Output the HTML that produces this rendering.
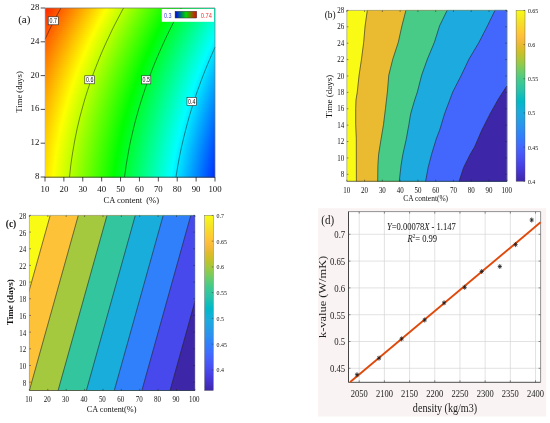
<!DOCTYPE html>
<html><head><meta charset="utf-8"><title>Figure</title>
<style>html,body{margin:0;padding:0;background:#fff}svg{display:block}</style></head>
<body><svg width="550" height="423" viewBox="0 0 550 423">
<defs><linearGradient id="a0"><stop offset="0.0000" stop-color="#ff2700"/><stop offset="0.1250" stop-color="#ff7000"/><stop offset="0.2500" stop-color="#ffbb00"/><stop offset="0.3589" stop-color="#ffff00"/><stop offset="0.3750" stop-color="#f5ff00"/><stop offset="0.5000" stop-color="#a1ff00"/><stop offset="0.6250" stop-color="#4bff00"/><stop offset="0.7311" stop-color="#01ff00"/><stop offset="0.7500" stop-color="#00ff0d"/><stop offset="0.8750" stop-color="#00ff66"/><stop offset="1.0000" stop-color="#00ffc1"/></linearGradient><linearGradient id="a1"><stop offset="0.0000" stop-color="#ff2a00"/><stop offset="0.1250" stop-color="#ff7400"/><stop offset="0.2500" stop-color="#ffbf00"/><stop offset="0.3522" stop-color="#ffff00"/><stop offset="0.3750" stop-color="#f0ff00"/><stop offset="0.5000" stop-color="#9dff00"/><stop offset="0.6250" stop-color="#47ff00"/><stop offset="0.7256" stop-color="#00ff00"/><stop offset="0.7500" stop-color="#00ff11"/><stop offset="0.8750" stop-color="#00ff6a"/><stop offset="1.0000" stop-color="#00ffc6"/></linearGradient><linearGradient id="a2"><stop offset="0.0000" stop-color="#ff2e00"/><stop offset="0.1250" stop-color="#ff7700"/><stop offset="0.2500" stop-color="#ffc300"/><stop offset="0.3456" stop-color="#ffff00"/><stop offset="0.3750" stop-color="#ecff00"/><stop offset="0.5000" stop-color="#99ff00"/><stop offset="0.6250" stop-color="#43ff00"/><stop offset="0.7189" stop-color="#00ff00"/><stop offset="0.7500" stop-color="#00ff16"/><stop offset="0.8750" stop-color="#00ff6f"/><stop offset="1.0000" stop-color="#00ffcb"/></linearGradient><linearGradient id="a3"><stop offset="0.0000" stop-color="#ff3200"/><stop offset="0.1250" stop-color="#ff7b00"/><stop offset="0.2500" stop-color="#ffc700"/><stop offset="0.3389" stop-color="#fffe00"/><stop offset="0.3750" stop-color="#e8ff00"/><stop offset="0.5000" stop-color="#94ff00"/><stop offset="0.6250" stop-color="#3eff00"/><stop offset="0.7122" stop-color="#01ff00"/><stop offset="0.7500" stop-color="#00ff1a"/><stop offset="0.8750" stop-color="#00ff74"/><stop offset="1.0000" stop-color="#00ffd0"/></linearGradient><linearGradient id="a4"><stop offset="0.0000" stop-color="#ff3500"/><stop offset="0.1250" stop-color="#ff7f00"/><stop offset="0.2500" stop-color="#ffcb00"/><stop offset="0.3333" stop-color="#ffff00"/><stop offset="0.3750" stop-color="#e4ff00"/><stop offset="0.5000" stop-color="#90ff00"/><stop offset="0.6250" stop-color="#3aff00"/><stop offset="0.7067" stop-color="#00ff00"/><stop offset="0.7500" stop-color="#00ff1e"/><stop offset="0.8750" stop-color="#00ff78"/><stop offset="1.0000" stop-color="#00ffd4"/></linearGradient><linearGradient id="a5"><stop offset="0.0000" stop-color="#ff3900"/><stop offset="0.1250" stop-color="#ff8300"/><stop offset="0.2500" stop-color="#ffcf00"/><stop offset="0.3267" stop-color="#fffe00"/><stop offset="0.3750" stop-color="#e0ff00"/><stop offset="0.5000" stop-color="#8cff00"/><stop offset="0.6250" stop-color="#35ff00"/><stop offset="0.7000" stop-color="#00ff00"/><stop offset="0.7500" stop-color="#00ff23"/><stop offset="0.8750" stop-color="#00ff7d"/><stop offset="1.0000" stop-color="#00ffd9"/></linearGradient><linearGradient id="a6"><stop offset="0.0000" stop-color="#ff3c00"/><stop offset="0.1250" stop-color="#ff8600"/><stop offset="0.2500" stop-color="#ffd200"/><stop offset="0.3211" stop-color="#ffff00"/><stop offset="0.3750" stop-color="#dcff00"/><stop offset="0.5000" stop-color="#88ff00"/><stop offset="0.6250" stop-color="#31ff00"/><stop offset="0.6944" stop-color="#00ff00"/><stop offset="0.7500" stop-color="#00ff27"/><stop offset="0.8750" stop-color="#00ff81"/><stop offset="1.0000" stop-color="#00ffdd"/></linearGradient><linearGradient id="a7"><stop offset="0.0000" stop-color="#ff4000"/><stop offset="0.1250" stop-color="#ff8a00"/><stop offset="0.2500" stop-color="#ffd600"/><stop offset="0.3144" stop-color="#fffe00"/><stop offset="0.3750" stop-color="#d8ff00"/><stop offset="0.5000" stop-color="#84ff00"/><stop offset="0.6250" stop-color="#2dff00"/><stop offset="0.6878" stop-color="#00ff00"/><stop offset="0.7500" stop-color="#00ff2b"/><stop offset="0.8750" stop-color="#00ff86"/><stop offset="1.0000" stop-color="#00ffe2"/></linearGradient><linearGradient id="a8"><stop offset="0.0000" stop-color="#ff4300"/><stop offset="0.1250" stop-color="#ff8d00"/><stop offset="0.2500" stop-color="#ffda00"/><stop offset="0.3089" stop-color="#ffff00"/><stop offset="0.3750" stop-color="#d4ff00"/><stop offset="0.5000" stop-color="#80ff00"/><stop offset="0.6250" stop-color="#29ff00"/><stop offset="0.6822" stop-color="#00ff00"/><stop offset="0.7500" stop-color="#00ff30"/><stop offset="0.8750" stop-color="#00ff8a"/><stop offset="1.0000" stop-color="#00ffe7"/></linearGradient><linearGradient id="a9"><stop offset="0.0000" stop-color="#ff4700"/><stop offset="0.1250" stop-color="#ff9100"/><stop offset="0.2500" stop-color="#ffdd00"/><stop offset="0.3033" stop-color="#ffff00"/><stop offset="0.3750" stop-color="#d0ff00"/><stop offset="0.5000" stop-color="#7bff00"/><stop offset="0.6250" stop-color="#25ff00"/><stop offset="0.6756" stop-color="#01ff00"/><stop offset="0.7500" stop-color="#00ff34"/><stop offset="0.8750" stop-color="#00ff8e"/><stop offset="1.0000" stop-color="#00ffeb"/></linearGradient><linearGradient id="a10"><stop offset="0.0000" stop-color="#ff4a00"/><stop offset="0.1250" stop-color="#ff9400"/><stop offset="0.2500" stop-color="#ffe100"/><stop offset="0.2967" stop-color="#fffe00"/><stop offset="0.3750" stop-color="#ccff00"/><stop offset="0.5000" stop-color="#77ff00"/><stop offset="0.6250" stop-color="#20ff00"/><stop offset="0.6700" stop-color="#00ff00"/><stop offset="0.7500" stop-color="#00ff38"/><stop offset="0.8750" stop-color="#00ff93"/><stop offset="1.0000" stop-color="#00ffef"/></linearGradient><linearGradient id="a11"><stop offset="0.0000" stop-color="#ff4e00"/><stop offset="0.1250" stop-color="#ff9800"/><stop offset="0.2500" stop-color="#ffe500"/><stop offset="0.2911" stop-color="#fffe00"/><stop offset="0.3750" stop-color="#c8ff00"/><stop offset="0.5000" stop-color="#73ff00"/><stop offset="0.6250" stop-color="#1cff00"/><stop offset="0.6644" stop-color="#00ff00"/><stop offset="0.7500" stop-color="#00ff3c"/><stop offset="0.8750" stop-color="#00ff97"/><stop offset="1.0000" stop-color="#00fff4"/></linearGradient><linearGradient id="a12"><stop offset="0.0000" stop-color="#ff5100"/><stop offset="0.1250" stop-color="#ff9b00"/><stop offset="0.2500" stop-color="#ffe800"/><stop offset="0.2856" stop-color="#ffff00"/><stop offset="0.3750" stop-color="#c4ff00"/><stop offset="0.5000" stop-color="#70ff00"/><stop offset="0.6250" stop-color="#18ff00"/><stop offset="0.6589" stop-color="#00ff00"/><stop offset="0.7500" stop-color="#00ff40"/><stop offset="0.8750" stop-color="#00ff9b"/><stop offset="1.0000" stop-color="#00fff8"/></linearGradient><linearGradient id="a13"><stop offset="0.0000" stop-color="#ff5400"/><stop offset="0.1250" stop-color="#ff9f00"/><stop offset="0.2500" stop-color="#ffec00"/><stop offset="0.2800" stop-color="#ffff00"/><stop offset="0.3750" stop-color="#c1ff00"/><stop offset="0.5000" stop-color="#6cff00"/><stop offset="0.6250" stop-color="#14ff00"/><stop offset="0.6533" stop-color="#00ff00"/><stop offset="0.7500" stop-color="#00ff44"/><stop offset="0.8750" stop-color="#00ff9f"/><stop offset="1.0000" stop-color="#00fffd"/></linearGradient><linearGradient id="a14"><stop offset="0.0000" stop-color="#ff5700"/><stop offset="0.1250" stop-color="#ffa200"/><stop offset="0.2500" stop-color="#ffef00"/><stop offset="0.2744" stop-color="#ffff00"/><stop offset="0.3750" stop-color="#bdff00"/><stop offset="0.5000" stop-color="#68ff00"/><stop offset="0.6250" stop-color="#10ff00"/><stop offset="0.6478" stop-color="#00ff00"/><stop offset="0.7500" stop-color="#00ff48"/><stop offset="0.8750" stop-color="#00ffa3"/><stop offset="0.9967" stop-color="#00fffe"/><stop offset="1.0000" stop-color="#00fdff"/></linearGradient><linearGradient id="a15"><stop offset="0.0000" stop-color="#ff5b00"/><stop offset="0.1250" stop-color="#ffa500"/><stop offset="0.2500" stop-color="#fff300"/><stop offset="0.2689" stop-color="#ffff00"/><stop offset="0.3750" stop-color="#b9ff00"/><stop offset="0.5000" stop-color="#64ff00"/><stop offset="0.6250" stop-color="#0cff00"/><stop offset="0.6422" stop-color="#00ff00"/><stop offset="0.7500" stop-color="#00ff4c"/><stop offset="0.8750" stop-color="#00ffa8"/><stop offset="0.9911" stop-color="#00fffe"/><stop offset="1.0000" stop-color="#00f9ff"/></linearGradient><linearGradient id="a16"><stop offset="0.0000" stop-color="#ff5e00"/><stop offset="0.1250" stop-color="#ffa900"/><stop offset="0.2500" stop-color="#fff600"/><stop offset="0.2633" stop-color="#fffe00"/><stop offset="0.3750" stop-color="#b5ff00"/><stop offset="0.5000" stop-color="#60ff00"/><stop offset="0.6250" stop-color="#08ff00"/><stop offset="0.6367" stop-color="#00ff00"/><stop offset="0.7500" stop-color="#00ff50"/><stop offset="0.8750" stop-color="#00ffac"/><stop offset="0.9856" stop-color="#00fffe"/><stop offset="1.0000" stop-color="#00f5ff"/></linearGradient><linearGradient id="a17"><stop offset="0.0000" stop-color="#ff6100"/><stop offset="0.1250" stop-color="#ffac00"/><stop offset="0.2500" stop-color="#fff900"/><stop offset="0.2578" stop-color="#fffe00"/><stop offset="0.3750" stop-color="#b2ff00"/><stop offset="0.5000" stop-color="#5cff00"/><stop offset="0.6250" stop-color="#05ff00"/><stop offset="0.6311" stop-color="#00ff00"/><stop offset="0.7500" stop-color="#00ff54"/><stop offset="0.8750" stop-color="#00ffb0"/><stop offset="0.9800" stop-color="#00fffe"/><stop offset="1.0000" stop-color="#00f1ff"/></linearGradient><linearGradient id="a18"><stop offset="0.0000" stop-color="#ff6400"/><stop offset="0.1250" stop-color="#ffaf00"/><stop offset="0.2500" stop-color="#fffd00"/><stop offset="0.2533" stop-color="#ffff00"/><stop offset="0.3750" stop-color="#aeff00"/><stop offset="0.5000" stop-color="#59ff00"/><stop offset="0.6250" stop-color="#01ff00"/><stop offset="0.6256" stop-color="#00ff00"/><stop offset="0.7500" stop-color="#00ff58"/><stop offset="0.8750" stop-color="#00ffb4"/><stop offset="0.9756" stop-color="#00ffff"/><stop offset="1.0000" stop-color="#00ecff"/></linearGradient><linearGradient id="a19"><stop offset="0.0000" stop-color="#ff6700"/><stop offset="0.1250" stop-color="#ffb200"/><stop offset="0.2478" stop-color="#ffff00"/><stop offset="0.2500" stop-color="#feff00"/><stop offset="0.3750" stop-color="#abff00"/><stop offset="0.5000" stop-color="#55ff00"/><stop offset="0.6200" stop-color="#00ff00"/><stop offset="0.6250" stop-color="#00ff03"/><stop offset="0.7500" stop-color="#00ff5c"/><stop offset="0.8750" stop-color="#00ffb8"/><stop offset="0.9700" stop-color="#00ffff"/><stop offset="1.0000" stop-color="#00e8ff"/></linearGradient><linearGradient id="a20"><stop offset="0.0000" stop-color="#ff6a00"/><stop offset="0.1250" stop-color="#ffb500"/><stop offset="0.2422" stop-color="#fffe00"/><stop offset="0.2500" stop-color="#fbff00"/><stop offset="0.3750" stop-color="#a7ff00"/><stop offset="0.5000" stop-color="#51ff00"/><stop offset="0.6144" stop-color="#01ff00"/><stop offset="0.6250" stop-color="#00ff07"/><stop offset="0.7500" stop-color="#00ff60"/><stop offset="0.8750" stop-color="#00ffbc"/><stop offset="0.9644" stop-color="#00ffff"/><stop offset="1.0000" stop-color="#00e4ff"/></linearGradient><linearGradient id="a21"><stop offset="0.0000" stop-color="#ff6d00"/><stop offset="0.1250" stop-color="#ffb900"/><stop offset="0.2378" stop-color="#ffff00"/><stop offset="0.2500" stop-color="#f7ff00"/><stop offset="0.3750" stop-color="#a4ff00"/><stop offset="0.5000" stop-color="#4eff00"/><stop offset="0.6100" stop-color="#00ff00"/><stop offset="0.6250" stop-color="#00ff0a"/><stop offset="0.7500" stop-color="#00ff64"/><stop offset="0.8750" stop-color="#00ffbf"/><stop offset="0.9589" stop-color="#00fffe"/><stop offset="1.0000" stop-color="#00e0ff"/></linearGradient><linearGradient id="a22"><stop offset="0.0000" stop-color="#ff7000"/><stop offset="0.1250" stop-color="#ffbc00"/><stop offset="0.2322" stop-color="#fffe00"/><stop offset="0.2500" stop-color="#f4ff00"/><stop offset="0.3750" stop-color="#a0ff00"/><stop offset="0.5000" stop-color="#4aff00"/><stop offset="0.6044" stop-color="#00ff00"/><stop offset="0.6250" stop-color="#00ff0e"/><stop offset="0.7500" stop-color="#00ff67"/><stop offset="0.8750" stop-color="#00ffc3"/><stop offset="0.9533" stop-color="#00fffe"/><stop offset="1.0000" stop-color="#00dcff"/></linearGradient><linearGradient id="a23"><stop offset="0.0000" stop-color="#ff7300"/><stop offset="0.1250" stop-color="#ffbf00"/><stop offset="0.2278" stop-color="#ffff00"/><stop offset="0.2500" stop-color="#f1ff00"/><stop offset="0.3750" stop-color="#9dff00"/><stop offset="0.5000" stop-color="#47ff00"/><stop offset="0.6000" stop-color="#00ff00"/><stop offset="0.6250" stop-color="#00ff12"/><stop offset="0.7500" stop-color="#00ff6b"/><stop offset="0.8750" stop-color="#00ffc7"/><stop offset="0.9489" stop-color="#00ffff"/><stop offset="1.0000" stop-color="#00d8ff"/></linearGradient><linearGradient id="a24"><stop offset="0.0000" stop-color="#ff7600"/><stop offset="0.1250" stop-color="#ffc200"/><stop offset="0.2222" stop-color="#fffe00"/><stop offset="0.2500" stop-color="#edff00"/><stop offset="0.3750" stop-color="#9aff00"/><stop offset="0.5000" stop-color="#43ff00"/><stop offset="0.5944" stop-color="#00ff00"/><stop offset="0.6250" stop-color="#00ff15"/><stop offset="0.7500" stop-color="#00ff6f"/><stop offset="0.8750" stop-color="#00ffcb"/><stop offset="0.9433" stop-color="#00fffe"/><stop offset="1.0000" stop-color="#00d4ff"/></linearGradient><linearGradient id="a25"><stop offset="0.0000" stop-color="#ff7900"/><stop offset="0.1250" stop-color="#ffc500"/><stop offset="0.2178" stop-color="#ffff00"/><stop offset="0.2500" stop-color="#eaff00"/><stop offset="0.3750" stop-color="#96ff00"/><stop offset="0.5000" stop-color="#40ff00"/><stop offset="0.5900" stop-color="#00ff00"/><stop offset="0.6250" stop-color="#00ff19"/><stop offset="0.7500" stop-color="#00ff72"/><stop offset="0.8750" stop-color="#00ffcf"/><stop offset="0.9389" stop-color="#00ffff"/><stop offset="1.0000" stop-color="#00d1ff"/></linearGradient><linearGradient id="a26"><stop offset="0.0000" stop-color="#ff7b00"/><stop offset="0.1250" stop-color="#ffc700"/><stop offset="0.2133" stop-color="#ffff00"/><stop offset="0.2500" stop-color="#e7ff00"/><stop offset="0.3750" stop-color="#93ff00"/><stop offset="0.5000" stop-color="#3cff00"/><stop offset="0.5844" stop-color="#01ff00"/><stop offset="0.6250" stop-color="#00ff1c"/><stop offset="0.7500" stop-color="#00ff76"/><stop offset="0.8750" stop-color="#00ffd2"/><stop offset="0.9333" stop-color="#00fffe"/><stop offset="1.0000" stop-color="#00cdff"/></linearGradient><linearGradient id="a27"><stop offset="0.0000" stop-color="#ff7e00"/><stop offset="0.1250" stop-color="#ffca00"/><stop offset="0.2089" stop-color="#ffff00"/><stop offset="0.2500" stop-color="#e4ff00"/><stop offset="0.3750" stop-color="#90ff00"/><stop offset="0.5000" stop-color="#39ff00"/><stop offset="0.5800" stop-color="#00ff00"/><stop offset="0.6250" stop-color="#00ff20"/><stop offset="0.7500" stop-color="#00ff7a"/><stop offset="0.8750" stop-color="#00ffd6"/><stop offset="0.9289" stop-color="#00ffff"/><stop offset="1.0000" stop-color="#00c9ff"/></linearGradient><linearGradient id="a28"><stop offset="0.0000" stop-color="#ff8100"/><stop offset="0.1250" stop-color="#ffcd00"/><stop offset="0.2033" stop-color="#fffe00"/><stop offset="0.2500" stop-color="#e1ff00"/><stop offset="0.3750" stop-color="#8dff00"/><stop offset="0.5000" stop-color="#36ff00"/><stop offset="0.5756" stop-color="#00ff00"/><stop offset="0.6250" stop-color="#00ff23"/><stop offset="0.7500" stop-color="#00ff7d"/><stop offset="0.8750" stop-color="#00ffda"/><stop offset="0.9233" stop-color="#00fffe"/><stop offset="1.0000" stop-color="#00c5ff"/></linearGradient><linearGradient id="a29"><stop offset="0.0000" stop-color="#ff8300"/><stop offset="0.1250" stop-color="#ffd000"/><stop offset="0.1989" stop-color="#fffe00"/><stop offset="0.2500" stop-color="#deff00"/><stop offset="0.3750" stop-color="#89ff00"/><stop offset="0.5000" stop-color="#32ff00"/><stop offset="0.5700" stop-color="#01ff00"/><stop offset="0.6250" stop-color="#00ff26"/><stop offset="0.7500" stop-color="#00ff81"/><stop offset="0.8750" stop-color="#00ffdd"/><stop offset="0.9189" stop-color="#00fffe"/><stop offset="1.0000" stop-color="#00c1ff"/></linearGradient><linearGradient id="a30"><stop offset="0.0000" stop-color="#ff8600"/><stop offset="0.1250" stop-color="#ffd300"/><stop offset="0.1944" stop-color="#fffe00"/><stop offset="0.2500" stop-color="#dbff00"/><stop offset="0.3750" stop-color="#86ff00"/><stop offset="0.5000" stop-color="#2fff00"/><stop offset="0.5656" stop-color="#01ff00"/><stop offset="0.6250" stop-color="#00ff2a"/><stop offset="0.7500" stop-color="#00ff84"/><stop offset="0.8750" stop-color="#00ffe1"/><stop offset="0.9144" stop-color="#00ffff"/><stop offset="1.0000" stop-color="#00beff"/></linearGradient><linearGradient id="a31"><stop offset="0.0000" stop-color="#ff8900"/><stop offset="0.1250" stop-color="#ffd600"/><stop offset="0.1900" stop-color="#fffe00"/><stop offset="0.2500" stop-color="#d8ff00"/><stop offset="0.3750" stop-color="#83ff00"/><stop offset="0.5000" stop-color="#2cff00"/><stop offset="0.5611" stop-color="#00ff00"/><stop offset="0.6250" stop-color="#00ff2d"/><stop offset="0.7500" stop-color="#00ff87"/><stop offset="0.8750" stop-color="#00ffe4"/><stop offset="0.9100" stop-color="#00ffff"/><stop offset="1.0000" stop-color="#00baff"/></linearGradient><linearGradient id="a32"><stop offset="0.0000" stop-color="#ff8b00"/><stop offset="0.1250" stop-color="#ffd800"/><stop offset="0.1856" stop-color="#fffe00"/><stop offset="0.2500" stop-color="#d5ff00"/><stop offset="0.3750" stop-color="#80ff00"/><stop offset="0.5000" stop-color="#29ff00"/><stop offset="0.5567" stop-color="#00ff00"/><stop offset="0.6250" stop-color="#00ff30"/><stop offset="0.7500" stop-color="#00ff8b"/><stop offset="0.8750" stop-color="#00ffe8"/><stop offset="0.9044" stop-color="#00fffe"/><stop offset="1.0000" stop-color="#00b6ff"/></linearGradient><linearGradient id="a33"><stop offset="0.0000" stop-color="#ff8e00"/><stop offset="0.1250" stop-color="#ffdb00"/><stop offset="0.1822" stop-color="#ffff00"/><stop offset="0.2500" stop-color="#d2ff00"/><stop offset="0.3750" stop-color="#7dff00"/><stop offset="0.5000" stop-color="#26ff00"/><stop offset="0.5522" stop-color="#00ff00"/><stop offset="0.6250" stop-color="#00ff33"/><stop offset="0.7500" stop-color="#00ff8e"/><stop offset="0.8750" stop-color="#00ffeb"/><stop offset="0.9000" stop-color="#00fffe"/><stop offset="1.0000" stop-color="#00b3ff"/></linearGradient><linearGradient id="a34"><stop offset="0.0000" stop-color="#ff9000"/><stop offset="0.1250" stop-color="#ffdd00"/><stop offset="0.1778" stop-color="#ffff00"/><stop offset="0.2500" stop-color="#cfff00"/><stop offset="0.3750" stop-color="#7aff00"/><stop offset="0.5000" stop-color="#23ff00"/><stop offset="0.5478" stop-color="#00ff00"/><stop offset="0.6250" stop-color="#00ff36"/><stop offset="0.7500" stop-color="#00ff91"/><stop offset="0.8750" stop-color="#00ffef"/><stop offset="0.8956" stop-color="#00fffe"/><stop offset="1.0000" stop-color="#00afff"/></linearGradient><linearGradient id="a35"><stop offset="0.0000" stop-color="#ff9300"/><stop offset="0.1250" stop-color="#ffe000"/><stop offset="0.1733" stop-color="#ffff00"/><stop offset="0.2500" stop-color="#ccff00"/><stop offset="0.3750" stop-color="#77ff00"/><stop offset="0.5000" stop-color="#20ff00"/><stop offset="0.5433" stop-color="#01ff00"/><stop offset="0.6250" stop-color="#00ff3a"/><stop offset="0.7500" stop-color="#00ff95"/><stop offset="0.8750" stop-color="#00fff2"/><stop offset="0.8911" stop-color="#00fffe"/><stop offset="1.0000" stop-color="#00acff"/></linearGradient><linearGradient id="a36"><stop offset="0.0000" stop-color="#ff9500"/><stop offset="0.1250" stop-color="#ffe300"/><stop offset="0.1689" stop-color="#fffe00"/><stop offset="0.2500" stop-color="#caff00"/><stop offset="0.3750" stop-color="#74ff00"/><stop offset="0.5000" stop-color="#1dff00"/><stop offset="0.5389" stop-color="#01ff00"/><stop offset="0.6250" stop-color="#00ff3d"/><stop offset="0.7500" stop-color="#00ff98"/><stop offset="0.8750" stop-color="#00fff5"/><stop offset="0.8867" stop-color="#00fffe"/><stop offset="1.0000" stop-color="#00a8ff"/></linearGradient><linearGradient id="a37"><stop offset="0.0000" stop-color="#ff9800"/><stop offset="0.1250" stop-color="#ffe500"/><stop offset="0.1656" stop-color="#ffff00"/><stop offset="0.2500" stop-color="#c7ff00"/><stop offset="0.3750" stop-color="#71ff00"/><stop offset="0.5000" stop-color="#1aff00"/><stop offset="0.5356" stop-color="#00ff00"/><stop offset="0.6250" stop-color="#00ff40"/><stop offset="0.7500" stop-color="#00ff9b"/><stop offset="0.8750" stop-color="#00fff9"/><stop offset="0.8822" stop-color="#00fffe"/><stop offset="1.0000" stop-color="#00a5ff"/></linearGradient><linearGradient id="a38"><stop offset="0.0000" stop-color="#ff9a00"/><stop offset="0.1250" stop-color="#ffe800"/><stop offset="0.1611" stop-color="#fffe00"/><stop offset="0.2500" stop-color="#c4ff00"/><stop offset="0.3750" stop-color="#6fff00"/><stop offset="0.5000" stop-color="#17ff00"/><stop offset="0.5311" stop-color="#00ff00"/><stop offset="0.6250" stop-color="#00ff43"/><stop offset="0.7500" stop-color="#00ff9e"/><stop offset="0.8750" stop-color="#00fffc"/><stop offset="0.8789" stop-color="#00ffff"/><stop offset="1.0000" stop-color="#00a2ff"/></linearGradient><linearGradient id="a39"><stop offset="0.0000" stop-color="#ff9c00"/><stop offset="0.1250" stop-color="#ffea00"/><stop offset="0.1578" stop-color="#ffff00"/><stop offset="0.2500" stop-color="#c2ff00"/><stop offset="0.3750" stop-color="#6cff00"/><stop offset="0.5000" stop-color="#14ff00"/><stop offset="0.5267" stop-color="#01ff00"/><stop offset="0.6250" stop-color="#00ff46"/><stop offset="0.7500" stop-color="#00ffa1"/><stop offset="0.8744" stop-color="#00ffff"/><stop offset="0.8750" stop-color="#00ffff"/><stop offset="1.0000" stop-color="#009eff"/></linearGradient><linearGradient id="a40"><stop offset="0.0000" stop-color="#ff9f00"/><stop offset="0.1250" stop-color="#ffec00"/><stop offset="0.1533" stop-color="#fffe00"/><stop offset="0.2500" stop-color="#bfff00"/><stop offset="0.3750" stop-color="#69ff00"/><stop offset="0.5000" stop-color="#11ff00"/><stop offset="0.5233" stop-color="#00ff00"/><stop offset="0.6250" stop-color="#00ff49"/><stop offset="0.7500" stop-color="#00ffa4"/><stop offset="0.8700" stop-color="#00ffff"/><stop offset="0.8750" stop-color="#00fcff"/><stop offset="1.0000" stop-color="#009bff"/></linearGradient><linearGradient id="a41"><stop offset="0.0000" stop-color="#ffa100"/><stop offset="0.1250" stop-color="#ffef00"/><stop offset="0.1500" stop-color="#ffff00"/><stop offset="0.2500" stop-color="#bcff00"/><stop offset="0.3750" stop-color="#66ff00"/><stop offset="0.5000" stop-color="#0eff00"/><stop offset="0.5189" stop-color="#00ff00"/><stop offset="0.6250" stop-color="#00ff4c"/><stop offset="0.7500" stop-color="#00ffa7"/><stop offset="0.8656" stop-color="#00fffe"/><stop offset="0.8750" stop-color="#00f8ff"/><stop offset="1.0000" stop-color="#0098ff"/></linearGradient><linearGradient id="a42"><stop offset="0.0000" stop-color="#ffa300"/><stop offset="0.1250" stop-color="#fff100"/><stop offset="0.1467" stop-color="#ffff00"/><stop offset="0.2500" stop-color="#baff00"/><stop offset="0.3750" stop-color="#64ff00"/><stop offset="0.5000" stop-color="#0bff00"/><stop offset="0.5156" stop-color="#00ff00"/><stop offset="0.6250" stop-color="#00ff4e"/><stop offset="0.7500" stop-color="#00ffaa"/><stop offset="0.8622" stop-color="#00ffff"/><stop offset="0.8750" stop-color="#00f5ff"/><stop offset="1.0000" stop-color="#0094ff"/></linearGradient><linearGradient id="a43"><stop offset="0.0000" stop-color="#ffa500"/><stop offset="0.1250" stop-color="#fff300"/><stop offset="0.1422" stop-color="#fffe00"/><stop offset="0.2500" stop-color="#b7ff00"/><stop offset="0.3750" stop-color="#61ff00"/><stop offset="0.5000" stop-color="#08ff00"/><stop offset="0.5111" stop-color="#00ff00"/><stop offset="0.6250" stop-color="#00ff51"/><stop offset="0.7500" stop-color="#00ffad"/><stop offset="0.8578" stop-color="#00ffff"/><stop offset="0.8750" stop-color="#00f2ff"/><stop offset="1.0000" stop-color="#0091ff"/></linearGradient><linearGradient id="a44"><stop offset="0.0000" stop-color="#ffa700"/><stop offset="0.1250" stop-color="#fff600"/><stop offset="0.1389" stop-color="#ffff00"/><stop offset="0.2500" stop-color="#b5ff00"/><stop offset="0.3750" stop-color="#5fff00"/><stop offset="0.5000" stop-color="#06ff00"/><stop offset="0.5078" stop-color="#00ff00"/><stop offset="0.6250" stop-color="#00ff54"/><stop offset="0.7500" stop-color="#00ffb0"/><stop offset="0.8533" stop-color="#00fffe"/><stop offset="0.8750" stop-color="#00efff"/><stop offset="1.0000" stop-color="#008eff"/></linearGradient><linearGradient id="a45"><stop offset="0.0000" stop-color="#ffa900"/><stop offset="0.1250" stop-color="#fff800"/><stop offset="0.1356" stop-color="#ffff00"/><stop offset="0.2500" stop-color="#b2ff00"/><stop offset="0.3750" stop-color="#5cff00"/><stop offset="0.5000" stop-color="#03ff00"/><stop offset="0.5033" stop-color="#01ff00"/><stop offset="0.6250" stop-color="#00ff57"/><stop offset="0.7500" stop-color="#00ffb3"/><stop offset="0.8500" stop-color="#00ffff"/><stop offset="0.8750" stop-color="#00ecff"/><stop offset="1.0000" stop-color="#008bff"/></linearGradient><linearGradient id="a46"><stop offset="0.0000" stop-color="#ffab00"/><stop offset="0.1250" stop-color="#fffa00"/><stop offset="0.1322" stop-color="#ffff00"/><stop offset="0.2500" stop-color="#b0ff00"/><stop offset="0.3750" stop-color="#59ff00"/><stop offset="0.5000" stop-color="#00ff00"/><stop offset="0.6250" stop-color="#00ff5a"/><stop offset="0.7500" stop-color="#00ffb6"/><stop offset="0.8456" stop-color="#00fffe"/><stop offset="0.8750" stop-color="#00e9ff"/><stop offset="1.0000" stop-color="#0088ff"/></linearGradient><linearGradient id="a47"><stop offset="0.0000" stop-color="#ffae00"/><stop offset="0.1250" stop-color="#fffc00"/><stop offset="0.1289" stop-color="#ffff00"/><stop offset="0.2500" stop-color="#aeff00"/><stop offset="0.3750" stop-color="#57ff00"/><stop offset="0.4967" stop-color="#00ff00"/><stop offset="0.5000" stop-color="#00ff02"/><stop offset="0.6250" stop-color="#00ff5c"/><stop offset="0.7500" stop-color="#00ffb9"/><stop offset="0.8422" stop-color="#00ffff"/><stop offset="0.8750" stop-color="#00e6ff"/><stop offset="1.0000" stop-color="#0085ff"/></linearGradient><linearGradient id="a48"><stop offset="0.0000" stop-color="#ffaf00"/><stop offset="0.1250" stop-color="#fffe00"/><stop offset="0.1256" stop-color="#ffff00"/><stop offset="0.2500" stop-color="#abff00"/><stop offset="0.3750" stop-color="#55ff00"/><stop offset="0.4933" stop-color="#00ff00"/><stop offset="0.5000" stop-color="#00ff05"/><stop offset="0.6250" stop-color="#00ff5f"/><stop offset="0.7500" stop-color="#00ffbb"/><stop offset="0.8389" stop-color="#00ffff"/><stop offset="0.8750" stop-color="#00e3ff"/><stop offset="1.0000" stop-color="#0082ff"/></linearGradient><linearGradient id="a49"><stop offset="0.0000" stop-color="#ffb100"/><stop offset="0.1222" stop-color="#ffff00"/><stop offset="0.1250" stop-color="#feff00"/><stop offset="0.2500" stop-color="#a9ff00"/><stop offset="0.3750" stop-color="#52ff00"/><stop offset="0.4889" stop-color="#01ff00"/><stop offset="0.5000" stop-color="#00ff07"/><stop offset="0.6250" stop-color="#00ff61"/><stop offset="0.7500" stop-color="#00ffbe"/><stop offset="0.8344" stop-color="#00fffe"/><stop offset="0.8750" stop-color="#00e1ff"/><stop offset="1.0000" stop-color="#007fff"/></linearGradient><linearGradient id="a50"><stop offset="0.0000" stop-color="#ffb300"/><stop offset="0.1189" stop-color="#ffff00"/><stop offset="0.1250" stop-color="#fbff00"/><stop offset="0.2500" stop-color="#a7ff00"/><stop offset="0.3750" stop-color="#50ff00"/><stop offset="0.4856" stop-color="#01ff00"/><stop offset="0.5000" stop-color="#00ff0a"/><stop offset="0.6250" stop-color="#00ff64"/><stop offset="0.7500" stop-color="#00ffc1"/><stop offset="0.8311" stop-color="#00fffe"/><stop offset="0.8750" stop-color="#00deff"/><stop offset="1.0000" stop-color="#007cff"/></linearGradient><linearGradient id="a51"><stop offset="0.0000" stop-color="#ffb500"/><stop offset="0.1156" stop-color="#fffe00"/><stop offset="0.1250" stop-color="#f9ff00"/><stop offset="0.2500" stop-color="#a5ff00"/><stop offset="0.3750" stop-color="#4dff00"/><stop offset="0.4822" stop-color="#01ff00"/><stop offset="0.5000" stop-color="#00ff0c"/><stop offset="0.6250" stop-color="#00ff67"/><stop offset="0.7500" stop-color="#00ffc4"/><stop offset="0.8278" stop-color="#00ffff"/><stop offset="0.8750" stop-color="#00dbff"/><stop offset="1.0000" stop-color="#0079ff"/></linearGradient><linearGradient id="a52"><stop offset="0.0000" stop-color="#ffb700"/><stop offset="0.1133" stop-color="#ffff00"/><stop offset="0.1250" stop-color="#f7ff00"/><stop offset="0.2500" stop-color="#a3ff00"/><stop offset="0.3750" stop-color="#4bff00"/><stop offset="0.4789" stop-color="#01ff00"/><stop offset="0.5000" stop-color="#00ff0e"/><stop offset="0.6250" stop-color="#00ff69"/><stop offset="0.7500" stop-color="#00ffc6"/><stop offset="0.8244" stop-color="#00ffff"/><stop offset="0.8750" stop-color="#00d8ff"/><stop offset="1.0000" stop-color="#0076ff"/></linearGradient><linearGradient id="a53"><stop offset="0.0000" stop-color="#ffb900"/><stop offset="0.1100" stop-color="#ffff00"/><stop offset="0.1250" stop-color="#f5ff00"/><stop offset="0.2500" stop-color="#a0ff00"/><stop offset="0.3750" stop-color="#49ff00"/><stop offset="0.4756" stop-color="#01ff00"/><stop offset="0.5000" stop-color="#00ff11"/><stop offset="0.6250" stop-color="#00ff6b"/><stop offset="0.7500" stop-color="#00ffc9"/><stop offset="0.8211" stop-color="#00ffff"/><stop offset="0.8750" stop-color="#00d6ff"/><stop offset="1.0000" stop-color="#0073ff"/></linearGradient><linearGradient id="a54"><stop offset="0.0000" stop-color="#ffbb00"/><stop offset="0.1067" stop-color="#fffe00"/><stop offset="0.1250" stop-color="#f3ff00"/><stop offset="0.2500" stop-color="#9eff00"/><stop offset="0.3750" stop-color="#47ff00"/><stop offset="0.4733" stop-color="#00ff00"/><stop offset="0.5000" stop-color="#00ff13"/><stop offset="0.6250" stop-color="#00ff6e"/><stop offset="0.7500" stop-color="#00ffcb"/><stop offset="0.8178" stop-color="#00ffff"/><stop offset="0.8750" stop-color="#00d3ff"/><stop offset="1.0000" stop-color="#0071ff"/></linearGradient><linearGradient id="a55"><stop offset="0.0000" stop-color="#ffbc00"/><stop offset="0.1044" stop-color="#ffff00"/><stop offset="0.1250" stop-color="#f1ff00"/><stop offset="0.2500" stop-color="#9cff00"/><stop offset="0.3750" stop-color="#45ff00"/><stop offset="0.4700" stop-color="#00ff00"/><stop offset="0.5000" stop-color="#00ff15"/><stop offset="0.6250" stop-color="#00ff70"/><stop offset="0.7500" stop-color="#00ffce"/><stop offset="0.8144" stop-color="#00ffff"/><stop offset="0.8750" stop-color="#00d0ff"/><stop offset="1.0000" stop-color="#006eff"/></linearGradient><linearGradient id="a56"><stop offset="0.0000" stop-color="#ffbe00"/><stop offset="0.1011" stop-color="#fffe00"/><stop offset="0.1250" stop-color="#f0ff00"/><stop offset="0.2500" stop-color="#9aff00"/><stop offset="0.3750" stop-color="#42ff00"/><stop offset="0.4667" stop-color="#00ff00"/><stop offset="0.5000" stop-color="#00ff17"/><stop offset="0.6250" stop-color="#00ff73"/><stop offset="0.7500" stop-color="#00ffd0"/><stop offset="0.8111" stop-color="#00ffff"/><stop offset="0.8750" stop-color="#00ceff"/><stop offset="1.0000" stop-color="#006bff"/></linearGradient><linearGradient id="a57"><stop offset="0.0000" stop-color="#ffc000"/><stop offset="0.0989" stop-color="#ffff00"/><stop offset="0.1250" stop-color="#eeff00"/><stop offset="0.2500" stop-color="#98ff00"/><stop offset="0.3750" stop-color="#40ff00"/><stop offset="0.4633" stop-color="#01ff00"/><stop offset="0.5000" stop-color="#00ff1a"/><stop offset="0.6250" stop-color="#00ff75"/><stop offset="0.7500" stop-color="#00ffd3"/><stop offset="0.8078" stop-color="#00ffff"/><stop offset="0.8750" stop-color="#00cbff"/><stop offset="1.0000" stop-color="#0068ff"/></linearGradient><linearGradient id="a58"><stop offset="0.0000" stop-color="#ffc100"/><stop offset="0.0956" stop-color="#fffe00"/><stop offset="0.1250" stop-color="#ecff00"/><stop offset="0.2500" stop-color="#96ff00"/><stop offset="0.3750" stop-color="#3eff00"/><stop offset="0.4611" stop-color="#00ff00"/><stop offset="0.5000" stop-color="#00ff1c"/><stop offset="0.6250" stop-color="#00ff77"/><stop offset="0.7500" stop-color="#00ffd5"/><stop offset="0.8044" stop-color="#00ffff"/><stop offset="0.8750" stop-color="#00c9ff"/><stop offset="1.0000" stop-color="#0066ff"/></linearGradient><linearGradient id="a59"><stop offset="0.0000" stop-color="#ffc300"/><stop offset="0.0933" stop-color="#ffff00"/><stop offset="0.1250" stop-color="#eaff00"/><stop offset="0.2500" stop-color="#94ff00"/><stop offset="0.3750" stop-color="#3cff00"/><stop offset="0.4578" stop-color="#00ff00"/><stop offset="0.5000" stop-color="#00ff1e"/><stop offset="0.6250" stop-color="#00ff79"/><stop offset="0.7500" stop-color="#00ffd7"/><stop offset="0.8011" stop-color="#00ffff"/><stop offset="0.8750" stop-color="#00c6ff"/><stop offset="1.0000" stop-color="#0063ff"/></linearGradient><linearGradient id="a60"><stop offset="0.0000" stop-color="#ffc400"/><stop offset="0.0911" stop-color="#ffff00"/><stop offset="0.1250" stop-color="#e8ff00"/><stop offset="0.2500" stop-color="#93ff00"/><stop offset="0.3750" stop-color="#3aff00"/><stop offset="0.4556" stop-color="#00ff00"/><stop offset="0.5000" stop-color="#00ff20"/><stop offset="0.6250" stop-color="#00ff7c"/><stop offset="0.7500" stop-color="#00ffda"/><stop offset="0.7978" stop-color="#00fffe"/><stop offset="0.8750" stop-color="#00c4ff"/><stop offset="1.0000" stop-color="#0061ff"/></linearGradient><linearGradient id="a61"><stop offset="0.0000" stop-color="#ffc600"/><stop offset="0.0889" stop-color="#ffff00"/><stop offset="0.1250" stop-color="#e7ff00"/><stop offset="0.2500" stop-color="#91ff00"/><stop offset="0.3750" stop-color="#38ff00"/><stop offset="0.4522" stop-color="#00ff00"/><stop offset="0.5000" stop-color="#00ff22"/><stop offset="0.6250" stop-color="#00ff7e"/><stop offset="0.7500" stop-color="#00ffdc"/><stop offset="0.7944" stop-color="#00fffe"/><stop offset="0.8750" stop-color="#00c1ff"/><stop offset="1.0000" stop-color="#005eff"/></linearGradient><linearGradient id="a62"><stop offset="0.0000" stop-color="#ffc700"/><stop offset="0.0856" stop-color="#fffe00"/><stop offset="0.1250" stop-color="#e5ff00"/><stop offset="0.2500" stop-color="#8fff00"/><stop offset="0.3750" stop-color="#36ff00"/><stop offset="0.4500" stop-color="#00ff00"/><stop offset="0.5000" stop-color="#00ff24"/><stop offset="0.6250" stop-color="#00ff80"/><stop offset="0.7500" stop-color="#00ffde"/><stop offset="0.7922" stop-color="#00ffff"/><stop offset="0.8750" stop-color="#00bfff"/><stop offset="1.0000" stop-color="#005cff"/></linearGradient><linearGradient id="a63"><stop offset="0.0000" stop-color="#ffc900"/><stop offset="0.0833" stop-color="#fffe00"/><stop offset="0.1250" stop-color="#e3ff00"/><stop offset="0.2500" stop-color="#8dff00"/><stop offset="0.3750" stop-color="#35ff00"/><stop offset="0.4467" stop-color="#01ff00"/><stop offset="0.5000" stop-color="#00ff26"/><stop offset="0.6250" stop-color="#00ff82"/><stop offset="0.7500" stop-color="#00ffe0"/><stop offset="0.7889" stop-color="#00fffe"/><stop offset="0.8750" stop-color="#00bdff"/><stop offset="1.0000" stop-color="#0059ff"/></linearGradient><linearGradient id="a64"><stop offset="0.0000" stop-color="#ffca00"/><stop offset="0.0811" stop-color="#fffe00"/><stop offset="0.1250" stop-color="#e2ff00"/><stop offset="0.2500" stop-color="#8cff00"/><stop offset="0.3750" stop-color="#33ff00"/><stop offset="0.4444" stop-color="#00ff00"/><stop offset="0.5000" stop-color="#00ff28"/><stop offset="0.6250" stop-color="#00ff84"/><stop offset="0.7500" stop-color="#00ffe3"/><stop offset="0.7867" stop-color="#00ffff"/><stop offset="0.8750" stop-color="#00baff"/><stop offset="1.0000" stop-color="#0057ff"/></linearGradient><linearGradient id="a65"><stop offset="0.0000" stop-color="#ffcc00"/><stop offset="0.0789" stop-color="#fffe00"/><stop offset="0.1250" stop-color="#e0ff00"/><stop offset="0.2500" stop-color="#8aff00"/><stop offset="0.3750" stop-color="#31ff00"/><stop offset="0.4422" stop-color="#00ff00"/><stop offset="0.5000" stop-color="#00ff2a"/><stop offset="0.6250" stop-color="#00ff86"/><stop offset="0.7500" stop-color="#00ffe5"/><stop offset="0.7833" stop-color="#00fffe"/><stop offset="0.8750" stop-color="#00b8ff"/><stop offset="1.0000" stop-color="#0054ff"/></linearGradient><linearGradient id="a66"><stop offset="0.0000" stop-color="#ffcd00"/><stop offset="0.0767" stop-color="#fffe00"/><stop offset="0.1250" stop-color="#dfff00"/><stop offset="0.2500" stop-color="#88ff00"/><stop offset="0.3750" stop-color="#2fff00"/><stop offset="0.4389" stop-color="#01ff00"/><stop offset="0.5000" stop-color="#00ff2c"/><stop offset="0.6250" stop-color="#00ff88"/><stop offset="0.7500" stop-color="#00ffe7"/><stop offset="0.7811" stop-color="#00ffff"/><stop offset="0.8750" stop-color="#00b6ff"/><stop offset="1.0000" stop-color="#0052ff"/></linearGradient><linearGradient id="a67"><stop offset="0.0000" stop-color="#ffce00"/><stop offset="0.0744" stop-color="#fffe00"/><stop offset="0.1250" stop-color="#ddff00"/><stop offset="0.2500" stop-color="#87ff00"/><stop offset="0.3750" stop-color="#2dff00"/><stop offset="0.4367" stop-color="#01ff00"/><stop offset="0.5000" stop-color="#00ff2d"/><stop offset="0.6250" stop-color="#00ff8a"/><stop offset="0.7500" stop-color="#00ffe9"/><stop offset="0.7778" stop-color="#00fffe"/><stop offset="0.8750" stop-color="#00b4ff"/><stop offset="1.0000" stop-color="#0050ff"/></linearGradient><linearGradient id="a68"><stop offset="0.0000" stop-color="#ffd000"/><stop offset="0.0733" stop-color="#ffff00"/><stop offset="0.1250" stop-color="#dcff00"/><stop offset="0.2500" stop-color="#85ff00"/><stop offset="0.3750" stop-color="#2cff00"/><stop offset="0.4344" stop-color="#00ff00"/><stop offset="0.5000" stop-color="#00ff2f"/><stop offset="0.6250" stop-color="#00ff8c"/><stop offset="0.7500" stop-color="#00ffeb"/><stop offset="0.7756" stop-color="#00ffff"/><stop offset="0.8750" stop-color="#00b1ff"/><stop offset="1.0000" stop-color="#004dff"/></linearGradient><linearGradient id="a69"><stop offset="0.0000" stop-color="#ffd100"/><stop offset="0.0711" stop-color="#ffff00"/><stop offset="0.1250" stop-color="#dbff00"/><stop offset="0.2500" stop-color="#84ff00"/><stop offset="0.3750" stop-color="#2aff00"/><stop offset="0.4322" stop-color="#00ff00"/><stop offset="0.5000" stop-color="#00ff31"/><stop offset="0.6250" stop-color="#00ff8e"/><stop offset="0.7500" stop-color="#00ffed"/><stop offset="0.7733" stop-color="#00ffff"/><stop offset="0.8750" stop-color="#00afff"/><stop offset="1.0000" stop-color="#004bff"/></linearGradient><linearGradient id="a70"><stop offset="0.0000" stop-color="#ffd200"/><stop offset="0.0689" stop-color="#ffff00"/><stop offset="0.1250" stop-color="#d9ff00"/><stop offset="0.2500" stop-color="#82ff00"/><stop offset="0.3750" stop-color="#29ff00"/><stop offset="0.4300" stop-color="#00ff00"/><stop offset="0.5000" stop-color="#00ff33"/><stop offset="0.6250" stop-color="#00ff90"/><stop offset="0.7500" stop-color="#00ffef"/><stop offset="0.7700" stop-color="#00fffe"/><stop offset="0.8750" stop-color="#00adff"/><stop offset="1.0000" stop-color="#0049ff"/></linearGradient><linearGradient id="a71"><stop offset="0.0000" stop-color="#ffd300"/><stop offset="0.0667" stop-color="#fffe00"/><stop offset="0.1250" stop-color="#d8ff00"/><stop offset="0.2500" stop-color="#81ff00"/><stop offset="0.3750" stop-color="#27ff00"/><stop offset="0.4278" stop-color="#00ff00"/><stop offset="0.5000" stop-color="#00ff34"/><stop offset="0.6250" stop-color="#00ff91"/><stop offset="0.7500" stop-color="#00fff1"/><stop offset="0.7678" stop-color="#00ffff"/><stop offset="0.8750" stop-color="#00abff"/><stop offset="1.0000" stop-color="#0047ff"/></linearGradient><linearGradient id="a72"><stop offset="0.0000" stop-color="#ffd400"/><stop offset="0.0656" stop-color="#ffff00"/><stop offset="0.1250" stop-color="#d7ff00"/><stop offset="0.2500" stop-color="#7fff00"/><stop offset="0.3750" stop-color="#25ff00"/><stop offset="0.4256" stop-color="#00ff00"/><stop offset="0.5000" stop-color="#00ff36"/><stop offset="0.6250" stop-color="#00ff93"/><stop offset="0.7500" stop-color="#00fff3"/><stop offset="0.7656" stop-color="#00ffff"/><stop offset="0.8750" stop-color="#00a9ff"/><stop offset="1.0000" stop-color="#0045ff"/></linearGradient><linearGradient id="a73"><stop offset="0.0000" stop-color="#ffd500"/><stop offset="0.0633" stop-color="#fffe00"/><stop offset="0.1250" stop-color="#d5ff00"/><stop offset="0.2500" stop-color="#7eff00"/><stop offset="0.3750" stop-color="#24ff00"/><stop offset="0.4233" stop-color="#01ff00"/><stop offset="0.5000" stop-color="#00ff37"/><stop offset="0.6250" stop-color="#00ff95"/><stop offset="0.7500" stop-color="#00fff4"/><stop offset="0.7633" stop-color="#00ffff"/><stop offset="0.8750" stop-color="#00a7ff"/><stop offset="1.0000" stop-color="#0043ff"/></linearGradient><linearGradient id="a74"><stop offset="0.0000" stop-color="#ffd600"/><stop offset="0.0622" stop-color="#ffff00"/><stop offset="0.1250" stop-color="#d4ff00"/><stop offset="0.2500" stop-color="#7dff00"/><stop offset="0.3750" stop-color="#23ff00"/><stop offset="0.4211" stop-color="#01ff00"/><stop offset="0.5000" stop-color="#00ff39"/><stop offset="0.6250" stop-color="#00ff96"/><stop offset="0.7500" stop-color="#00fff6"/><stop offset="0.7611" stop-color="#00ffff"/><stop offset="0.8750" stop-color="#00a5ff"/><stop offset="1.0000" stop-color="#0041ff"/></linearGradient><linearGradient id="a75"><stop offset="0.0000" stop-color="#ffd700"/><stop offset="0.0600" stop-color="#fffe00"/><stop offset="0.1250" stop-color="#d3ff00"/><stop offset="0.2500" stop-color="#7bff00"/><stop offset="0.3750" stop-color="#21ff00"/><stop offset="0.4200" stop-color="#00ff00"/><stop offset="0.5000" stop-color="#00ff3b"/><stop offset="0.6250" stop-color="#00ff98"/><stop offset="0.7500" stop-color="#00fff8"/><stop offset="0.7589" stop-color="#00ffff"/><stop offset="0.8750" stop-color="#00a4ff"/><stop offset="1.0000" stop-color="#003fff"/></linearGradient><linearGradient id="a76"><stop offset="0.0000" stop-color="#ffd800"/><stop offset="0.0589" stop-color="#ffff00"/><stop offset="0.1250" stop-color="#d2ff00"/><stop offset="0.2500" stop-color="#7aff00"/><stop offset="0.3750" stop-color="#20ff00"/><stop offset="0.4178" stop-color="#00ff00"/><stop offset="0.5000" stop-color="#00ff3c"/><stop offset="0.6250" stop-color="#00ff9a"/><stop offset="0.7500" stop-color="#00fffa"/><stop offset="0.7567" stop-color="#00ffff"/><stop offset="0.8750" stop-color="#00a2ff"/><stop offset="1.0000" stop-color="#003dff"/></linearGradient><linearGradient id="a77"><stop offset="0.0000" stop-color="#ffd900"/><stop offset="0.0578" stop-color="#ffff00"/><stop offset="0.1250" stop-color="#d1ff00"/><stop offset="0.2500" stop-color="#79ff00"/><stop offset="0.3750" stop-color="#1eff00"/><stop offset="0.4156" stop-color="#00ff00"/><stop offset="0.5000" stop-color="#00ff3d"/><stop offset="0.6250" stop-color="#00ff9b"/><stop offset="0.7500" stop-color="#00fffb"/><stop offset="0.7544" stop-color="#00ffff"/><stop offset="0.8750" stop-color="#00a0ff"/><stop offset="1.0000" stop-color="#003bff"/></linearGradient><linearGradient id="a78"><stop offset="0.0000" stop-color="#ffda00"/><stop offset="0.0556" stop-color="#fffe00"/><stop offset="0.1250" stop-color="#d0ff00"/><stop offset="0.2500" stop-color="#78ff00"/><stop offset="0.3750" stop-color="#1dff00"/><stop offset="0.4144" stop-color="#00ff00"/><stop offset="0.5000" stop-color="#00ff3f"/><stop offset="0.6250" stop-color="#00ff9d"/><stop offset="0.7500" stop-color="#00fffd"/><stop offset="0.7522" stop-color="#00ffff"/><stop offset="0.8750" stop-color="#009eff"/><stop offset="1.0000" stop-color="#0039ff"/></linearGradient><linearGradient id="a79"><stop offset="0.0000" stop-color="#ffdb00"/><stop offset="0.0544" stop-color="#ffff00"/><stop offset="0.1250" stop-color="#cfff00"/><stop offset="0.2500" stop-color="#77ff00"/><stop offset="0.3750" stop-color="#1cff00"/><stop offset="0.4122" stop-color="#00ff00"/><stop offset="0.5000" stop-color="#00ff40"/><stop offset="0.6250" stop-color="#00ff9e"/><stop offset="0.7500" stop-color="#00ffff"/><stop offset="0.8750" stop-color="#009cff"/><stop offset="1.0000" stop-color="#0037ff"/></linearGradient><linearGradient id="a80"><stop offset="0.0000" stop-color="#ffdc00"/><stop offset="0.0533" stop-color="#ffff00"/><stop offset="0.1250" stop-color="#ceff00"/><stop offset="0.2500" stop-color="#75ff00"/><stop offset="0.3750" stop-color="#1bff00"/><stop offset="0.4100" stop-color="#01ff00"/><stop offset="0.5000" stop-color="#00ff42"/><stop offset="0.6250" stop-color="#00ffa0"/><stop offset="0.7478" stop-color="#00ffff"/><stop offset="0.7500" stop-color="#00feff"/><stop offset="0.8750" stop-color="#009bff"/><stop offset="1.0000" stop-color="#0035ff"/></linearGradient><linearGradient id="a81"><stop offset="0.0000" stop-color="#ffdc00"/><stop offset="0.0522" stop-color="#ffff00"/><stop offset="0.1250" stop-color="#cdff00"/><stop offset="0.2500" stop-color="#74ff00"/><stop offset="0.3750" stop-color="#19ff00"/><stop offset="0.4089" stop-color="#00ff00"/><stop offset="0.5000" stop-color="#00ff43"/><stop offset="0.6250" stop-color="#00ffa1"/><stop offset="0.7456" stop-color="#00fffe"/><stop offset="0.7500" stop-color="#00fcff"/><stop offset="0.8750" stop-color="#0099ff"/><stop offset="1.0000" stop-color="#0033ff"/></linearGradient><linearGradient id="a82"><stop offset="0.0000" stop-color="#ffdd00"/><stop offset="0.0511" stop-color="#ffff00"/><stop offset="0.1250" stop-color="#ccff00"/><stop offset="0.2500" stop-color="#73ff00"/><stop offset="0.3750" stop-color="#18ff00"/><stop offset="0.4078" stop-color="#00ff00"/><stop offset="0.5000" stop-color="#00ff44"/><stop offset="0.6250" stop-color="#00ffa2"/><stop offset="0.7444" stop-color="#00ffff"/><stop offset="0.7500" stop-color="#00fbff"/><stop offset="0.8750" stop-color="#0097ff"/><stop offset="1.0000" stop-color="#0032ff"/></linearGradient><linearGradient id="a83"><stop offset="0.0000" stop-color="#ffde00"/><stop offset="0.0500" stop-color="#ffff00"/><stop offset="0.1250" stop-color="#cbff00"/><stop offset="0.2500" stop-color="#72ff00"/><stop offset="0.3750" stop-color="#17ff00"/><stop offset="0.4056" stop-color="#00ff00"/><stop offset="0.5000" stop-color="#00ff45"/><stop offset="0.6250" stop-color="#00ffa4"/><stop offset="0.7422" stop-color="#00ffff"/><stop offset="0.7500" stop-color="#00f9ff"/><stop offset="0.8750" stop-color="#0096ff"/><stop offset="1.0000" stop-color="#0030ff"/></linearGradient><linearGradient id="a84"><stop offset="0.0000" stop-color="#ffde00"/><stop offset="0.0489" stop-color="#ffff00"/><stop offset="0.1250" stop-color="#cbff00"/><stop offset="0.2500" stop-color="#72ff00"/><stop offset="0.3750" stop-color="#16ff00"/><stop offset="0.4044" stop-color="#01ff00"/><stop offset="0.5000" stop-color="#00ff46"/><stop offset="0.6250" stop-color="#00ffa5"/><stop offset="0.7411" stop-color="#00ffff"/><stop offset="0.7500" stop-color="#00f8ff"/><stop offset="0.8750" stop-color="#0095ff"/><stop offset="1.0000" stop-color="#002fff"/></linearGradient><linearGradient id="lg"><stop offset="0" stop-color="#0000f0"/><stop offset="0.5" stop-color="#00d800"/><stop offset="1" stop-color="#f00000"/></linearGradient><linearGradient id="cbb" x1="0" y1="0" x2="0" y2="1"><stop offset="0.0000" stop-color="#f9fb15"/><stop offset="0.0312" stop-color="#f6ef20"/><stop offset="0.0625" stop-color="#f5e327"/><stop offset="0.0938" stop-color="#f9d62d"/><stop offset="0.1250" stop-color="#feca33"/><stop offset="0.1562" stop-color="#febe3c"/><stop offset="0.1875" stop-color="#f1ba37"/><stop offset="0.2188" stop-color="#debc2a"/><stop offset="0.2500" stop-color="#c8c129"/><stop offset="0.2812" stop-color="#afc637"/><stop offset="0.3125" stop-color="#94ca4a"/><stop offset="0.3438" stop-color="#77cc60"/><stop offset="0.3750" stop-color="#5ccc76"/><stop offset="0.4062" stop-color="#44ca8a"/><stop offset="0.4375" stop-color="#34c79c"/><stop offset="0.4688" stop-color="#28c2ab"/><stop offset="0.5000" stop-color="#12beb9"/><stop offset="0.5312" stop-color="#01b9c6"/><stop offset="0.5625" stop-color="#0cb3d3"/><stop offset="0.5938" stop-color="#1aacdd"/><stop offset="0.6250" stop-color="#21a3e3"/><stop offset="0.6562" stop-color="#269ae9"/><stop offset="0.6875" stop-color="#2c90f0"/><stop offset="0.7188" stop-color="#2e85f8"/><stop offset="0.7500" stop-color="#347afd"/><stop offset="0.7812" stop-color="#3f6efe"/><stop offset="0.8125" stop-color="#4562fc"/><stop offset="0.8438" stop-color="#4757f7"/><stop offset="0.8750" stop-color="#484cef"/><stop offset="0.9062" stop-color="#4741e5"/><stop offset="0.9375" stop-color="#4536d5"/><stop offset="0.9688" stop-color="#422ebf"/><stop offset="1.0000" stop-color="#3e26a8"/></linearGradient><linearGradient id="cbc" x1="0" y1="0" x2="0" y2="1"><stop offset="0.0000" stop-color="#f9fb15"/><stop offset="0.0312" stop-color="#f6ef20"/><stop offset="0.0625" stop-color="#f5e327"/><stop offset="0.0938" stop-color="#f9d62d"/><stop offset="0.1250" stop-color="#feca33"/><stop offset="0.1562" stop-color="#febe3c"/><stop offset="0.1875" stop-color="#f1ba37"/><stop offset="0.2188" stop-color="#debc2a"/><stop offset="0.2500" stop-color="#c8c129"/><stop offset="0.2812" stop-color="#afc637"/><stop offset="0.3125" stop-color="#94ca4a"/><stop offset="0.3438" stop-color="#77cc60"/><stop offset="0.3750" stop-color="#5ccc76"/><stop offset="0.4062" stop-color="#44ca8a"/><stop offset="0.4375" stop-color="#34c79c"/><stop offset="0.4688" stop-color="#28c2ab"/><stop offset="0.5000" stop-color="#12beb9"/><stop offset="0.5312" stop-color="#01b9c6"/><stop offset="0.5625" stop-color="#0cb3d3"/><stop offset="0.5938" stop-color="#1aacdd"/><stop offset="0.6250" stop-color="#21a3e3"/><stop offset="0.6562" stop-color="#269ae9"/><stop offset="0.6875" stop-color="#2c90f0"/><stop offset="0.7188" stop-color="#2e85f8"/><stop offset="0.7500" stop-color="#347afd"/><stop offset="0.7812" stop-color="#3f6efe"/><stop offset="0.8125" stop-color="#4562fc"/><stop offset="0.8438" stop-color="#4757f7"/><stop offset="0.8750" stop-color="#484cef"/><stop offset="0.9062" stop-color="#4741e5"/><stop offset="0.9375" stop-color="#4536d5"/><stop offset="0.9688" stop-color="#422ebf"/><stop offset="1.0000" stop-color="#3e26a8"/></linearGradient></defs>
<rect width="550" height="423" fill="#fff"/>
<rect x="45.0" y="8.00" width="170.0" height="2.60" fill="url(#a0)"/>
<rect x="45.0" y="10.00" width="170.0" height="2.60" fill="url(#a1)"/>
<rect x="45.0" y="12.00" width="170.0" height="2.60" fill="url(#a2)"/>
<rect x="45.0" y="14.00" width="170.0" height="2.60" fill="url(#a3)"/>
<rect x="45.0" y="16.00" width="170.0" height="2.60" fill="url(#a4)"/>
<rect x="45.0" y="18.00" width="170.0" height="2.60" fill="url(#a5)"/>
<rect x="45.0" y="20.00" width="170.0" height="2.60" fill="url(#a6)"/>
<rect x="45.0" y="22.00" width="170.0" height="2.60" fill="url(#a7)"/>
<rect x="45.0" y="24.00" width="170.0" height="2.60" fill="url(#a8)"/>
<rect x="45.0" y="26.00" width="170.0" height="2.60" fill="url(#a9)"/>
<rect x="45.0" y="28.00" width="170.0" height="2.60" fill="url(#a10)"/>
<rect x="45.0" y="30.00" width="170.0" height="2.60" fill="url(#a11)"/>
<rect x="45.0" y="32.00" width="170.0" height="2.60" fill="url(#a12)"/>
<rect x="45.0" y="34.00" width="170.0" height="2.60" fill="url(#a13)"/>
<rect x="45.0" y="36.00" width="170.0" height="2.60" fill="url(#a14)"/>
<rect x="45.0" y="38.00" width="170.0" height="2.60" fill="url(#a15)"/>
<rect x="45.0" y="40.00" width="170.0" height="2.60" fill="url(#a16)"/>
<rect x="45.0" y="42.00" width="170.0" height="2.60" fill="url(#a17)"/>
<rect x="45.0" y="44.00" width="170.0" height="2.60" fill="url(#a18)"/>
<rect x="45.0" y="46.00" width="170.0" height="2.60" fill="url(#a19)"/>
<rect x="45.0" y="48.00" width="170.0" height="2.60" fill="url(#a20)"/>
<rect x="45.0" y="50.00" width="170.0" height="2.60" fill="url(#a21)"/>
<rect x="45.0" y="52.00" width="170.0" height="2.60" fill="url(#a22)"/>
<rect x="45.0" y="54.00" width="170.0" height="2.60" fill="url(#a23)"/>
<rect x="45.0" y="56.00" width="170.0" height="2.60" fill="url(#a24)"/>
<rect x="45.0" y="58.00" width="170.0" height="2.60" fill="url(#a25)"/>
<rect x="45.0" y="60.00" width="170.0" height="2.60" fill="url(#a26)"/>
<rect x="45.0" y="62.00" width="170.0" height="2.60" fill="url(#a27)"/>
<rect x="45.0" y="64.00" width="170.0" height="2.60" fill="url(#a28)"/>
<rect x="45.0" y="66.00" width="170.0" height="2.60" fill="url(#a29)"/>
<rect x="45.0" y="68.00" width="170.0" height="2.60" fill="url(#a30)"/>
<rect x="45.0" y="70.00" width="170.0" height="2.60" fill="url(#a31)"/>
<rect x="45.0" y="72.00" width="170.0" height="2.60" fill="url(#a32)"/>
<rect x="45.0" y="74.00" width="170.0" height="2.60" fill="url(#a33)"/>
<rect x="45.0" y="76.00" width="170.0" height="2.60" fill="url(#a34)"/>
<rect x="45.0" y="78.00" width="170.0" height="2.60" fill="url(#a35)"/>
<rect x="45.0" y="80.00" width="170.0" height="2.60" fill="url(#a36)"/>
<rect x="45.0" y="82.00" width="170.0" height="2.60" fill="url(#a37)"/>
<rect x="45.0" y="84.00" width="170.0" height="2.60" fill="url(#a38)"/>
<rect x="45.0" y="86.00" width="170.0" height="2.60" fill="url(#a39)"/>
<rect x="45.0" y="88.00" width="170.0" height="2.60" fill="url(#a40)"/>
<rect x="45.0" y="90.00" width="170.0" height="2.60" fill="url(#a41)"/>
<rect x="45.0" y="92.00" width="170.0" height="2.60" fill="url(#a42)"/>
<rect x="45.0" y="94.00" width="170.0" height="2.60" fill="url(#a43)"/>
<rect x="45.0" y="96.00" width="170.0" height="2.60" fill="url(#a44)"/>
<rect x="45.0" y="98.00" width="170.0" height="2.60" fill="url(#a45)"/>
<rect x="45.0" y="100.00" width="170.0" height="2.60" fill="url(#a46)"/>
<rect x="45.0" y="102.00" width="170.0" height="2.60" fill="url(#a47)"/>
<rect x="45.0" y="104.00" width="170.0" height="2.60" fill="url(#a48)"/>
<rect x="45.0" y="106.00" width="170.0" height="2.60" fill="url(#a49)"/>
<rect x="45.0" y="108.00" width="170.0" height="2.60" fill="url(#a50)"/>
<rect x="45.0" y="110.00" width="170.0" height="2.60" fill="url(#a51)"/>
<rect x="45.0" y="112.00" width="170.0" height="2.60" fill="url(#a52)"/>
<rect x="45.0" y="114.00" width="170.0" height="2.60" fill="url(#a53)"/>
<rect x="45.0" y="116.00" width="170.0" height="2.60" fill="url(#a54)"/>
<rect x="45.0" y="118.00" width="170.0" height="2.60" fill="url(#a55)"/>
<rect x="45.0" y="120.00" width="170.0" height="2.60" fill="url(#a56)"/>
<rect x="45.0" y="122.00" width="170.0" height="2.60" fill="url(#a57)"/>
<rect x="45.0" y="124.00" width="170.0" height="2.60" fill="url(#a58)"/>
<rect x="45.0" y="126.00" width="170.0" height="2.60" fill="url(#a59)"/>
<rect x="45.0" y="128.00" width="170.0" height="2.60" fill="url(#a60)"/>
<rect x="45.0" y="130.00" width="170.0" height="2.60" fill="url(#a61)"/>
<rect x="45.0" y="132.00" width="170.0" height="2.60" fill="url(#a62)"/>
<rect x="45.0" y="134.00" width="170.0" height="2.60" fill="url(#a63)"/>
<rect x="45.0" y="136.00" width="170.0" height="2.60" fill="url(#a64)"/>
<rect x="45.0" y="138.00" width="170.0" height="2.60" fill="url(#a65)"/>
<rect x="45.0" y="140.00" width="170.0" height="2.60" fill="url(#a66)"/>
<rect x="45.0" y="142.00" width="170.0" height="2.60" fill="url(#a67)"/>
<rect x="45.0" y="144.00" width="170.0" height="2.60" fill="url(#a68)"/>
<rect x="45.0" y="146.00" width="170.0" height="2.60" fill="url(#a69)"/>
<rect x="45.0" y="148.00" width="170.0" height="2.60" fill="url(#a70)"/>
<rect x="45.0" y="150.00" width="170.0" height="2.60" fill="url(#a71)"/>
<rect x="45.0" y="152.00" width="170.0" height="2.60" fill="url(#a72)"/>
<rect x="45.0" y="154.00" width="170.0" height="2.60" fill="url(#a73)"/>
<rect x="45.0" y="156.00" width="170.0" height="2.60" fill="url(#a74)"/>
<rect x="45.0" y="158.00" width="170.0" height="2.60" fill="url(#a75)"/>
<rect x="45.0" y="160.00" width="170.0" height="2.60" fill="url(#a76)"/>
<rect x="45.0" y="162.00" width="170.0" height="2.60" fill="url(#a77)"/>
<rect x="45.0" y="164.00" width="170.0" height="2.60" fill="url(#a78)"/>
<rect x="45.0" y="166.00" width="170.0" height="2.60" fill="url(#a79)"/>
<rect x="45.0" y="168.00" width="170.0" height="2.60" fill="url(#a80)"/>
<rect x="45.0" y="170.00" width="170.0" height="2.60" fill="url(#a81)"/>
<rect x="45.0" y="172.00" width="170.0" height="2.60" fill="url(#a82)"/>
<rect x="45.0" y="174.00" width="170.0" height="2.60" fill="url(#a83)"/>
<rect x="45.0" y="176.00" width="170.0" height="1.60" fill="url(#a84)"/>
<path d="M176.0,177.0 L177.0,170.7 L178.1,164.3 L179.1,158.8 L180.1,153.8 L181.4,147.4 L182.9,141.1 L183.9,136.9 L185.5,130.5 L186.7,125.9 L188.3,120.0 L189.5,115.7 L191.4,109.5 L192.7,105.2 L194.2,100.5 L196.1,94.8 L197.6,90.4 L199.2,86.2 L200.8,81.6 L202.7,76.6 L204.6,71.7 L206.4,67.2 L208.2,62.9 L210.0,58.7 L211.8,54.5 L213.7,50.2 L215.0,47.3" fill="none" stroke="#000" stroke-opacity="0.75" stroke-width="0.6"/>
<path d="M124.5,177.0 L125.4,170.7 L126.3,164.3 L127.4,158.0 L128.5,151.7 L129.7,145.3 L130.9,139.6 L132.0,134.8 L133.5,128.4 L134.7,123.6 L136.2,117.9 L137.6,113.0 L139.2,107.3 L140.5,103.1 L142.3,97.4 L143.9,92.5 L145.3,88.3 L147.0,83.4 L148.9,78.2 L150.7,73.5 L152.3,69.3 L154.0,65.0 L155.7,60.8 L157.5,56.6 L159.3,52.4 L161.2,48.1 L163.1,43.9 L165.0,39.7 L167.0,35.5 L169.1,31.2 L171.2,27.0 L173.3,22.8 L175.3,18.9 L177.2,15.3 L179.1,11.8 L181.2,8.0 L181.2,8.0" fill="none" stroke="#000" stroke-opacity="0.75" stroke-width="0.6"/>
<path d="M69.5,177.0 L70.2,170.7 L70.9,164.3 L71.8,158.0 L72.8,151.7 L73.9,145.3 L75.0,139.0 L76.2,133.4 L77.2,128.4 L78.7,122.1 L79.9,117.0 L81.4,111.5 L82.8,106.3 L84.3,101.0 L85.6,96.6 L87.5,90.6 L89.0,86.2 L90.4,81.9 L92.2,76.8 L94.1,71.6 L95.8,67.2 L97.5,62.9 L99.2,58.7 L100.9,54.5 L102.7,50.3 L104.6,46.0 L106.5,41.8 L108.5,37.6 L110.5,33.3 L112.5,29.1 L114.6,24.9 L116.8,20.7 L118.7,17.1 L120.6,13.5 L122.4,10.1 L123.6,8.0" fill="none" stroke="#000" stroke-opacity="0.75" stroke-width="0.6"/>
<path d="M45.0,39.3 L46.9,35.3 L48.8,31.2 L50.9,27.0 L53.0,22.8 L55.2,18.6 L57.3,14.6 L59.2,11.1 L60.9,8.0" fill="none" stroke="#000" stroke-opacity="0.75" stroke-width="0.6"/>
<path d="M45.0,8.0 H215.0 V177.0" fill="none" stroke="#707070" stroke-width="0.7"/>
<path d="M45.0,8.0 V177.0" fill="none" stroke="#b4b4cc" stroke-width="0.6"/>
<path d="M44.7,177.2 H215.0" fill="none" stroke="#333" stroke-width="0.8"/>
<line x1="40.7" y1="177.00" x2="45.0" y2="177.00" stroke="#222" stroke-width="0.8"/>
<text x="39.40" y="178.90" font-size="8.8" text-anchor="end" font-family="Liberation Serif, serif" fill="#111" >8</text>
<line x1="40.7" y1="143.20" x2="45.0" y2="143.20" stroke="#222" stroke-width="0.8"/>
<text x="39.40" y="145.10" font-size="8.8" text-anchor="end" font-family="Liberation Serif, serif" fill="#111" >12</text>
<line x1="40.7" y1="109.40" x2="45.0" y2="109.40" stroke="#222" stroke-width="0.8"/>
<text x="39.40" y="111.30" font-size="8.8" text-anchor="end" font-family="Liberation Serif, serif" fill="#111" >16</text>
<line x1="40.7" y1="75.60" x2="45.0" y2="75.60" stroke="#222" stroke-width="0.8"/>
<text x="39.40" y="77.50" font-size="8.8" text-anchor="end" font-family="Liberation Serif, serif" fill="#111" >20</text>
<line x1="40.7" y1="41.80" x2="45.0" y2="41.80" stroke="#222" stroke-width="0.8"/>
<text x="39.40" y="43.70" font-size="8.8" text-anchor="end" font-family="Liberation Serif, serif" fill="#111" >24</text>
<line x1="40.7" y1="8.00" x2="45.0" y2="8.00" stroke="#222" stroke-width="0.8"/>
<text x="39.40" y="9.90" font-size="8.8" text-anchor="end" font-family="Liberation Serif, serif" fill="#111" >28</text>
<line x1="45.00" y1="177.0" x2="45.00" y2="181.5" stroke="#222" stroke-width="0.8"/>
<text x="45.00" y="191.90" font-size="8.8" text-anchor="middle" font-family="Liberation Serif, serif" fill="#111" >10</text>
<line x1="63.89" y1="177.0" x2="63.89" y2="181.5" stroke="#222" stroke-width="0.8"/>
<text x="63.89" y="191.90" font-size="8.8" text-anchor="middle" font-family="Liberation Serif, serif" fill="#111" >20</text>
<line x1="82.78" y1="177.0" x2="82.78" y2="181.5" stroke="#222" stroke-width="0.8"/>
<text x="82.78" y="191.90" font-size="8.8" text-anchor="middle" font-family="Liberation Serif, serif" fill="#111" >30</text>
<line x1="101.67" y1="177.0" x2="101.67" y2="181.5" stroke="#222" stroke-width="0.8"/>
<text x="101.67" y="191.90" font-size="8.8" text-anchor="middle" font-family="Liberation Serif, serif" fill="#111" >40</text>
<line x1="120.56" y1="177.0" x2="120.56" y2="181.5" stroke="#222" stroke-width="0.8"/>
<text x="120.56" y="191.90" font-size="8.8" text-anchor="middle" font-family="Liberation Serif, serif" fill="#111" >50</text>
<line x1="139.44" y1="177.0" x2="139.44" y2="181.5" stroke="#222" stroke-width="0.8"/>
<text x="139.44" y="191.90" font-size="8.8" text-anchor="middle" font-family="Liberation Serif, serif" fill="#111" >60</text>
<line x1="158.33" y1="177.0" x2="158.33" y2="181.5" stroke="#222" stroke-width="0.8"/>
<text x="158.33" y="191.90" font-size="8.8" text-anchor="middle" font-family="Liberation Serif, serif" fill="#111" >70</text>
<line x1="177.22" y1="177.0" x2="177.22" y2="181.5" stroke="#222" stroke-width="0.8"/>
<text x="177.22" y="191.90" font-size="8.8" text-anchor="middle" font-family="Liberation Serif, serif" fill="#111" >80</text>
<line x1="196.11" y1="177.0" x2="196.11" y2="181.5" stroke="#222" stroke-width="0.8"/>
<text x="196.11" y="191.90" font-size="8.8" text-anchor="middle" font-family="Liberation Serif, serif" fill="#111" >90</text>
<line x1="215.00" y1="177.0" x2="215.00" y2="181.5" stroke="#222" stroke-width="0.8"/>
<text x="215.00" y="191.90" font-size="8.8" text-anchor="middle" font-family="Liberation Serif, serif" fill="#111" >100</text>
<text x="131.30" y="202.90" font-size="8.5" text-anchor="middle" font-family="Liberation Serif, serif" fill="#111" xml:space="preserve">CA content  (%)</text>
<text transform="translate(21.70,91.90) rotate(-90)" font-size="8.6" text-anchor="middle" font-family="Liberation Serif, serif" fill="#111" >Time (days)</text>
<text x="24.30" y="23.30" font-size="11" text-anchor="middle" font-family="Liberation Serif, serif" fill="#111" >(a)</text>
<rect x="48.2" y="16.8" width="10.10" height="8.00" fill="#fff" stroke="#222" stroke-width="0.6"/>
<text transform="translate(53.25,23.15) scale(0.8,1)" font-size="6.6" text-anchor="middle" font-family="Liberation Sans, sans-serif" fill="#111">0.7</text>
<rect x="84.8" y="75.8" width="9.80" height="8.00" fill="#fff" stroke="#222" stroke-width="0.6"/>
<text transform="translate(89.70,82.15) scale(0.8,1)" font-size="6.6" text-anchor="middle" font-family="Liberation Sans, sans-serif" fill="#111">0.6</text>
<rect x="141.5" y="75.8" width="9.30" height="8.10" fill="#fff" stroke="#222" stroke-width="0.6"/>
<text transform="translate(146.15,82.20) scale(0.8,1)" font-size="6.6" text-anchor="middle" font-family="Liberation Sans, sans-serif" fill="#111">0.5</text>
<rect x="187" y="97.4" width="9.40" height="8.20" fill="#fff" stroke="#222" stroke-width="0.6"/>
<text transform="translate(191.70,103.85) scale(0.8,1)" font-size="6.6" text-anchor="middle" font-family="Liberation Sans, sans-serif" fill="#111">0.4</text>
<rect x="161.8" y="9" width="52.2" height="12.8" fill="#fff"/>
<rect x="175.1" y="11.3" width="21.6" height="6.7" fill="url(#lg)" stroke="#333" stroke-width="0.5"/>
<text transform="translate(167.65,17.5) scale(0.8,1)" font-size="6.8" text-anchor="middle" font-family="Liberation Sans, sans-serif" fill="#3a3ae8">0.3</text>
<text transform="translate(206.3,17.5) scale(0.84,1)" font-size="6.8" text-anchor="middle" font-family="Liberation Sans, sans-serif" fill="#f03030">0.74</text>
<rect x="346.8" y="10.4" width="160.0" height="170.90" fill="#f9fb15"/>
<path d="M367.3,10.4 L365.1,26.0 L363.7,42.3 L361.5,59.1 L359.1,75.1 L357.3,91.9 L356.0,100.0 L355.7,108.3 L355.7,124.6 L356.3,138.2 L356.4,181.3 L506.8,181.3 L506.8,10.4 Z" fill="#eaba31" stroke="#eaba31" stroke-width="0.4"/>
<path d="M405.9,10.4 L401.9,26.0 L398.3,42.3 L392.8,59.1 L388.8,75.1 L387.4,91.9 L385.5,108.3 L383.5,124.6 L381.0,139.5 L378.6,154.6 L377.9,165.5 L377.7,181.3 L506.8,181.3 L506.8,10.4 Z" fill="#48cb86" stroke="#48cb86" stroke-width="0.4"/>
<path d="M447.1,10.4 L439.5,26.0 L434.4,42.3 L427.4,59.1 L421.7,75.1 L417.4,91.9 L414.7,100.0 L410.7,113.7 L408.9,124.6 L406.2,139.5 L402.8,154.6 L401.0,165.5 L399.3,181.3 L506.8,181.3 L506.8,10.4 Z" fill="#1caadf" stroke="#1caadf" stroke-width="0.4"/>
<path d="M495.0,10.4 L487.4,26.0 L479.0,42.3 L469.0,59.1 L461.4,75.1 L452.8,91.9 L444.6,113.7 L439.7,130.1 L436.5,138.2 L431.5,154.6 L428.2,167.4 L425.6,181.3 L506.8,181.3 L506.8,10.4 Z" fill="#4367fd" stroke="#4367fd" stroke-width="0.4"/>
<path d="M506.8,86.0 L498.4,99.1 L490.2,113.7 L481.9,130.1 L474.6,146.9 L470.1,154.6 L463.7,167.4 L459.1,181.3 L506.8,181.3 Z" fill="#3e26a8" stroke="#3e26a8" stroke-width="0.4"/>
<path d="M367.3,10.4 L365.1,26.0 L363.7,42.3 L361.5,59.1 L359.1,75.1 L357.3,91.9 L356.0,100.0 L355.7,108.3 L355.7,124.6 L356.3,138.2 L356.4,181.3" fill="none" stroke="#262626" stroke-width="0.6"/>
<path d="M405.9,10.4 L401.9,26.0 L398.3,42.3 L392.8,59.1 L388.8,75.1 L387.4,91.9 L385.5,108.3 L383.5,124.6 L381.0,139.5 L378.6,154.6 L377.9,165.5 L377.7,181.3" fill="none" stroke="#262626" stroke-width="0.6"/>
<path d="M447.1,10.4 L439.5,26.0 L434.4,42.3 L427.4,59.1 L421.7,75.1 L417.4,91.9 L414.7,100.0 L410.7,113.7 L408.9,124.6 L406.2,139.5 L402.8,154.6 L401.0,165.5 L399.3,181.3" fill="none" stroke="#262626" stroke-width="0.6"/>
<path d="M495.0,10.4 L487.4,26.0 L479.0,42.3 L469.0,59.1 L461.4,75.1 L452.8,91.9 L444.6,113.7 L439.7,130.1 L436.5,138.2 L431.5,154.6 L428.2,167.4 L425.6,181.3" fill="none" stroke="#262626" stroke-width="0.6"/>
<path d="M506.8,86.0 L498.4,99.1 L490.2,113.7 L481.9,130.1 L474.6,146.9 L470.1,154.6 L463.7,167.4 L459.1,181.3" fill="none" stroke="#262626" stroke-width="0.6"/>
<path d="M346.8,181.3 V10.4 H506.8 V181.3" fill="none" stroke="#777" stroke-width="0.5"/>
<path d="M346.8,181.3 H506.8" fill="none" stroke="#333" stroke-width="0.7"/>
<line x1="346.8" y1="174.33" x2="348.40000000000003" y2="174.33" stroke="#222" stroke-width="0.5"/>
<line x1="506.8" y1="174.33" x2="505.2" y2="174.33" stroke="#222" stroke-width="0.5"/>
<text transform="translate(344.20,177.03) scale(0.88,1)" font-size="7.9" text-anchor="end" font-family="Liberation Serif, serif" fill="#111">8</text>
<line x1="346.8" y1="157.94" x2="348.40000000000003" y2="157.94" stroke="#222" stroke-width="0.5"/>
<line x1="506.8" y1="157.94" x2="505.2" y2="157.94" stroke="#222" stroke-width="0.5"/>
<text transform="translate(344.20,160.64) scale(0.88,1)" font-size="7.9" text-anchor="end" font-family="Liberation Serif, serif" fill="#111">10</text>
<line x1="346.8" y1="141.55" x2="348.40000000000003" y2="141.55" stroke="#222" stroke-width="0.5"/>
<line x1="506.8" y1="141.55" x2="505.2" y2="141.55" stroke="#222" stroke-width="0.5"/>
<text transform="translate(344.20,144.25) scale(0.88,1)" font-size="7.9" text-anchor="end" font-family="Liberation Serif, serif" fill="#111">12</text>
<line x1="346.8" y1="125.15" x2="348.40000000000003" y2="125.15" stroke="#222" stroke-width="0.5"/>
<line x1="506.8" y1="125.15" x2="505.2" y2="125.15" stroke="#222" stroke-width="0.5"/>
<text transform="translate(344.20,127.85) scale(0.88,1)" font-size="7.9" text-anchor="end" font-family="Liberation Serif, serif" fill="#111">14</text>
<line x1="346.8" y1="108.76" x2="348.40000000000003" y2="108.76" stroke="#222" stroke-width="0.5"/>
<line x1="506.8" y1="108.76" x2="505.2" y2="108.76" stroke="#222" stroke-width="0.5"/>
<text transform="translate(344.20,111.46) scale(0.88,1)" font-size="7.9" text-anchor="end" font-family="Liberation Serif, serif" fill="#111">16</text>
<line x1="346.8" y1="92.37" x2="348.40000000000003" y2="92.37" stroke="#222" stroke-width="0.5"/>
<line x1="506.8" y1="92.37" x2="505.2" y2="92.37" stroke="#222" stroke-width="0.5"/>
<text transform="translate(344.20,95.07) scale(0.88,1)" font-size="7.9" text-anchor="end" font-family="Liberation Serif, serif" fill="#111">18</text>
<line x1="346.8" y1="75.97" x2="348.40000000000003" y2="75.97" stroke="#222" stroke-width="0.5"/>
<line x1="506.8" y1="75.97" x2="505.2" y2="75.97" stroke="#222" stroke-width="0.5"/>
<text transform="translate(344.20,78.67) scale(0.88,1)" font-size="7.9" text-anchor="end" font-family="Liberation Serif, serif" fill="#111">20</text>
<line x1="346.8" y1="59.58" x2="348.40000000000003" y2="59.58" stroke="#222" stroke-width="0.5"/>
<line x1="506.8" y1="59.58" x2="505.2" y2="59.58" stroke="#222" stroke-width="0.5"/>
<text transform="translate(344.20,62.28) scale(0.88,1)" font-size="7.9" text-anchor="end" font-family="Liberation Serif, serif" fill="#111">22</text>
<line x1="346.8" y1="43.19" x2="348.40000000000003" y2="43.19" stroke="#222" stroke-width="0.5"/>
<line x1="506.8" y1="43.19" x2="505.2" y2="43.19" stroke="#222" stroke-width="0.5"/>
<text transform="translate(344.20,45.89) scale(0.88,1)" font-size="7.9" text-anchor="end" font-family="Liberation Serif, serif" fill="#111">24</text>
<line x1="346.8" y1="26.79" x2="348.40000000000003" y2="26.79" stroke="#222" stroke-width="0.5"/>
<line x1="506.8" y1="26.79" x2="505.2" y2="26.79" stroke="#222" stroke-width="0.5"/>
<text transform="translate(344.20,29.49) scale(0.88,1)" font-size="7.9" text-anchor="end" font-family="Liberation Serif, serif" fill="#111">26</text>
<line x1="346.8" y1="10.40" x2="348.40000000000003" y2="10.40" stroke="#222" stroke-width="0.5"/>
<line x1="506.8" y1="10.40" x2="505.2" y2="10.40" stroke="#222" stroke-width="0.5"/>
<text transform="translate(344.20,13.10) scale(0.88,1)" font-size="7.9" text-anchor="end" font-family="Liberation Serif, serif" fill="#111">28</text>
<line x1="346.80" y1="181.3" x2="346.80" y2="179.70000000000002" stroke="#222" stroke-width="0.5"/>
<line x1="346.80" y1="10.4" x2="346.80" y2="12.0" stroke="#222" stroke-width="0.5"/>
<text transform="translate(346.80,193.00) scale(0.88,1)" font-size="7.9" text-anchor="middle" font-family="Liberation Serif, serif" fill="#111">10</text>
<line x1="364.58" y1="181.3" x2="364.58" y2="179.70000000000002" stroke="#222" stroke-width="0.5"/>
<line x1="364.58" y1="10.4" x2="364.58" y2="12.0" stroke="#222" stroke-width="0.5"/>
<text transform="translate(364.58,193.00) scale(0.88,1)" font-size="7.9" text-anchor="middle" font-family="Liberation Serif, serif" fill="#111">20</text>
<line x1="382.36" y1="181.3" x2="382.36" y2="179.70000000000002" stroke="#222" stroke-width="0.5"/>
<line x1="382.36" y1="10.4" x2="382.36" y2="12.0" stroke="#222" stroke-width="0.5"/>
<text transform="translate(382.36,193.00) scale(0.88,1)" font-size="7.9" text-anchor="middle" font-family="Liberation Serif, serif" fill="#111">30</text>
<line x1="400.13" y1="181.3" x2="400.13" y2="179.70000000000002" stroke="#222" stroke-width="0.5"/>
<line x1="400.13" y1="10.4" x2="400.13" y2="12.0" stroke="#222" stroke-width="0.5"/>
<text transform="translate(400.13,193.00) scale(0.88,1)" font-size="7.9" text-anchor="middle" font-family="Liberation Serif, serif" fill="#111">40</text>
<line x1="417.91" y1="181.3" x2="417.91" y2="179.70000000000002" stroke="#222" stroke-width="0.5"/>
<line x1="417.91" y1="10.4" x2="417.91" y2="12.0" stroke="#222" stroke-width="0.5"/>
<text transform="translate(417.91,193.00) scale(0.88,1)" font-size="7.9" text-anchor="middle" font-family="Liberation Serif, serif" fill="#111">50</text>
<line x1="435.69" y1="181.3" x2="435.69" y2="179.70000000000002" stroke="#222" stroke-width="0.5"/>
<line x1="435.69" y1="10.4" x2="435.69" y2="12.0" stroke="#222" stroke-width="0.5"/>
<text transform="translate(435.69,193.00) scale(0.88,1)" font-size="7.9" text-anchor="middle" font-family="Liberation Serif, serif" fill="#111">60</text>
<line x1="453.47" y1="181.3" x2="453.47" y2="179.70000000000002" stroke="#222" stroke-width="0.5"/>
<line x1="453.47" y1="10.4" x2="453.47" y2="12.0" stroke="#222" stroke-width="0.5"/>
<text transform="translate(453.47,193.00) scale(0.88,1)" font-size="7.9" text-anchor="middle" font-family="Liberation Serif, serif" fill="#111">70</text>
<line x1="471.24" y1="181.3" x2="471.24" y2="179.70000000000002" stroke="#222" stroke-width="0.5"/>
<line x1="471.24" y1="10.4" x2="471.24" y2="12.0" stroke="#222" stroke-width="0.5"/>
<text transform="translate(471.24,193.00) scale(0.88,1)" font-size="7.9" text-anchor="middle" font-family="Liberation Serif, serif" fill="#111">80</text>
<line x1="489.02" y1="181.3" x2="489.02" y2="179.70000000000002" stroke="#222" stroke-width="0.5"/>
<line x1="489.02" y1="10.4" x2="489.02" y2="12.0" stroke="#222" stroke-width="0.5"/>
<text transform="translate(489.02,193.00) scale(0.88,1)" font-size="7.9" text-anchor="middle" font-family="Liberation Serif, serif" fill="#111">90</text>
<line x1="506.80" y1="181.3" x2="506.80" y2="179.70000000000002" stroke="#222" stroke-width="0.5"/>
<line x1="506.80" y1="10.4" x2="506.80" y2="12.0" stroke="#222" stroke-width="0.5"/>
<text transform="translate(506.80,193.00) scale(0.88,1)" font-size="7.9" text-anchor="middle" font-family="Liberation Serif, serif" fill="#111">100</text>
<text transform="translate(425.70,200.50) scale(0.92,1)" font-size="8.1" text-anchor="middle" font-family="Liberation Serif, serif" fill="#111">CA content(%)</text>
<text transform="translate(331.6,96.45) rotate(-90) scale(1,0.82)" font-size="9.0" text-anchor="middle" font-family="Liberation Serif, serif" fill="#111">Time (days)</text>
<text x="330.10" y="18.20" font-size="9.4" text-anchor="middle" font-family="Liberation Serif, serif" fill="#111" >(b)</text>
<rect x="516.1" y="10.4" width="8.90" height="170.90" fill="url(#cbb)" stroke="#555" stroke-width="0.4"/>
<line x1="523.5" y1="181.30" x2="525.0" y2="181.30" stroke="#333" stroke-width="0.5"/>
<text x="527.90" y="183.70" font-size="7.0" text-anchor="start" font-family="Liberation Serif, serif" fill="#111" textLength="7.35" lengthAdjust="spacingAndGlyphs">0.4</text>
<line x1="523.5" y1="147.12" x2="525.0" y2="147.12" stroke="#333" stroke-width="0.5"/>
<text x="527.90" y="149.52" font-size="7.0" text-anchor="start" font-family="Liberation Serif, serif" fill="#111" textLength="10.29" lengthAdjust="spacingAndGlyphs">0.45</text>
<line x1="523.5" y1="112.94" x2="525.0" y2="112.94" stroke="#333" stroke-width="0.5"/>
<text x="527.90" y="115.34" font-size="7.0" text-anchor="start" font-family="Liberation Serif, serif" fill="#111" textLength="7.35" lengthAdjust="spacingAndGlyphs">0.5</text>
<line x1="523.5" y1="78.76" x2="525.0" y2="78.76" stroke="#333" stroke-width="0.5"/>
<text x="527.90" y="81.16" font-size="7.0" text-anchor="start" font-family="Liberation Serif, serif" fill="#111" textLength="10.29" lengthAdjust="spacingAndGlyphs">0.55</text>
<line x1="523.5" y1="44.58" x2="525.0" y2="44.58" stroke="#333" stroke-width="0.5"/>
<text x="527.90" y="46.98" font-size="7.0" text-anchor="start" font-family="Liberation Serif, serif" fill="#111" textLength="7.35" lengthAdjust="spacingAndGlyphs">0.6</text>
<line x1="523.5" y1="10.40" x2="525.0" y2="10.40" stroke="#333" stroke-width="0.5"/>
<text x="527.90" y="12.80" font-size="7.0" text-anchor="start" font-family="Liberation Serif, serif" fill="#111" textLength="10.29" lengthAdjust="spacingAndGlyphs">0.65</text>
<clipPath id="cc"><rect x="29.4" y="215.4" width="165.5" height="175.10"/></clipPath>
<g clip-path="url(#cc)">
<rect x="29.4" y="215.4" width="165.5" height="175.10" fill="#f9fb15"/>
<path d="M50.2,215.4 L1.3,390.5 L254.9,390.5 L254.9,215.4 Z" fill="#fec239" stroke="#fec239" stroke-width="0.4"/>
<path d="M78.3,215.4 L29.4,390.5 L254.9,390.5 L254.9,215.4 Z" fill="#a4c83e" stroke="#a4c83e" stroke-width="0.4"/>
<path d="M107.0,215.4 L58.1,390.5 L254.9,390.5 L254.9,215.4 Z" fill="#33c69e" stroke="#33c69e" stroke-width="0.4"/>
<path d="M135.3,215.4 L86.4,390.5 L254.9,390.5 L254.9,215.4 Z" fill="#19addb" stroke="#19addb" stroke-width="0.4"/>
<path d="M163.2,215.4 L114.3,390.5 L254.9,390.5 L254.9,215.4 Z" fill="#3080fb" stroke="#3080fb" stroke-width="0.4"/>
<path d="M190.8,215.4 L141.9,390.5 L254.9,390.5 L254.9,215.4 Z" fill="#4849ed" stroke="#4849ed" stroke-width="0.4"/>
<path d="M219.0,215.4 L170.1,390.5 L254.9,390.5 L254.9,215.4 Z" fill="#3e26a8" stroke="#3e26a8" stroke-width="0.4"/>
<path d="M50.2,215.4 L1.3,390.5" fill="none" stroke="#262626" stroke-width="0.6"/>
<path d="M78.3,215.4 L29.4,390.5" fill="none" stroke="#262626" stroke-width="0.6"/>
<path d="M107.0,215.4 L58.1,390.5" fill="none" stroke="#262626" stroke-width="0.6"/>
<path d="M135.3,215.4 L86.4,390.5" fill="none" stroke="#262626" stroke-width="0.6"/>
<path d="M163.2,215.4 L114.3,390.5" fill="none" stroke="#262626" stroke-width="0.6"/>
<path d="M190.8,215.4 L141.9,390.5" fill="none" stroke="#262626" stroke-width="0.6"/>
<path d="M219.0,215.4 L170.1,390.5" fill="none" stroke="#262626" stroke-width="0.6"/>
</g>
<path d="M29.4,390.5 V215.4 H194.9 V390.5" fill="none" stroke="#777" stroke-width="0.5"/>
<path d="M29.4,390.5 H194.9" fill="none" stroke="#333" stroke-width="0.7"/>
<line x1="29.4" y1="382.16" x2="31.0" y2="382.16" stroke="#222" stroke-width="0.5"/>
<line x1="194.9" y1="382.16" x2="193.3" y2="382.16" stroke="#222" stroke-width="0.5"/>
<text transform="translate(26.20,385.76) scale(0.88,1)" font-size="7.9" text-anchor="end" font-family="Liberation Serif, serif" fill="#111">8</text>
<line x1="29.4" y1="365.49" x2="31.0" y2="365.49" stroke="#222" stroke-width="0.5"/>
<line x1="194.9" y1="365.49" x2="193.3" y2="365.49" stroke="#222" stroke-width="0.5"/>
<text transform="translate(26.20,369.09) scale(0.88,1)" font-size="7.9" text-anchor="end" font-family="Liberation Serif, serif" fill="#111">10</text>
<line x1="29.4" y1="348.81" x2="31.0" y2="348.81" stroke="#222" stroke-width="0.5"/>
<line x1="194.9" y1="348.81" x2="193.3" y2="348.81" stroke="#222" stroke-width="0.5"/>
<text transform="translate(26.20,352.41) scale(0.88,1)" font-size="7.9" text-anchor="end" font-family="Liberation Serif, serif" fill="#111">12</text>
<line x1="29.4" y1="332.13" x2="31.0" y2="332.13" stroke="#222" stroke-width="0.5"/>
<line x1="194.9" y1="332.13" x2="193.3" y2="332.13" stroke="#222" stroke-width="0.5"/>
<text transform="translate(26.20,335.73) scale(0.88,1)" font-size="7.9" text-anchor="end" font-family="Liberation Serif, serif" fill="#111">14</text>
<line x1="29.4" y1="315.46" x2="31.0" y2="315.46" stroke="#222" stroke-width="0.5"/>
<line x1="194.9" y1="315.46" x2="193.3" y2="315.46" stroke="#222" stroke-width="0.5"/>
<text transform="translate(26.20,319.06) scale(0.88,1)" font-size="7.9" text-anchor="end" font-family="Liberation Serif, serif" fill="#111">16</text>
<line x1="29.4" y1="298.78" x2="31.0" y2="298.78" stroke="#222" stroke-width="0.5"/>
<line x1="194.9" y1="298.78" x2="193.3" y2="298.78" stroke="#222" stroke-width="0.5"/>
<text transform="translate(26.20,302.38) scale(0.88,1)" font-size="7.9" text-anchor="end" font-family="Liberation Serif, serif" fill="#111">18</text>
<line x1="29.4" y1="282.10" x2="31.0" y2="282.10" stroke="#222" stroke-width="0.5"/>
<line x1="194.9" y1="282.10" x2="193.3" y2="282.10" stroke="#222" stroke-width="0.5"/>
<text transform="translate(26.20,285.70) scale(0.88,1)" font-size="7.9" text-anchor="end" font-family="Liberation Serif, serif" fill="#111">20</text>
<line x1="29.4" y1="265.43" x2="31.0" y2="265.43" stroke="#222" stroke-width="0.5"/>
<line x1="194.9" y1="265.43" x2="193.3" y2="265.43" stroke="#222" stroke-width="0.5"/>
<text transform="translate(26.20,269.03) scale(0.88,1)" font-size="7.9" text-anchor="end" font-family="Liberation Serif, serif" fill="#111">22</text>
<line x1="29.4" y1="248.75" x2="31.0" y2="248.75" stroke="#222" stroke-width="0.5"/>
<line x1="194.9" y1="248.75" x2="193.3" y2="248.75" stroke="#222" stroke-width="0.5"/>
<text transform="translate(26.20,252.35) scale(0.88,1)" font-size="7.9" text-anchor="end" font-family="Liberation Serif, serif" fill="#111">24</text>
<line x1="29.4" y1="232.08" x2="31.0" y2="232.08" stroke="#222" stroke-width="0.5"/>
<line x1="194.9" y1="232.08" x2="193.3" y2="232.08" stroke="#222" stroke-width="0.5"/>
<text transform="translate(26.20,235.68) scale(0.88,1)" font-size="7.9" text-anchor="end" font-family="Liberation Serif, serif" fill="#111">26</text>
<line x1="29.4" y1="215.40" x2="31.0" y2="215.40" stroke="#222" stroke-width="0.5"/>
<line x1="194.9" y1="215.40" x2="193.3" y2="215.40" stroke="#222" stroke-width="0.5"/>
<text transform="translate(26.20,219.00) scale(0.88,1)" font-size="7.9" text-anchor="end" font-family="Liberation Serif, serif" fill="#111">28</text>
<line x1="29.40" y1="390.5" x2="29.40" y2="388.9" stroke="#222" stroke-width="0.5"/>
<line x1="29.40" y1="215.4" x2="29.40" y2="217.0" stroke="#222" stroke-width="0.5"/>
<text transform="translate(28.80,402.40) scale(0.88,1)" font-size="7.9" text-anchor="middle" font-family="Liberation Serif, serif" fill="#111">10</text>
<line x1="47.79" y1="390.5" x2="47.79" y2="388.9" stroke="#222" stroke-width="0.5"/>
<line x1="47.79" y1="215.4" x2="47.79" y2="217.0" stroke="#222" stroke-width="0.5"/>
<text transform="translate(47.19,402.40) scale(0.88,1)" font-size="7.9" text-anchor="middle" font-family="Liberation Serif, serif" fill="#111">20</text>
<line x1="66.18" y1="390.5" x2="66.18" y2="388.9" stroke="#222" stroke-width="0.5"/>
<line x1="66.18" y1="215.4" x2="66.18" y2="217.0" stroke="#222" stroke-width="0.5"/>
<text transform="translate(65.58,402.40) scale(0.88,1)" font-size="7.9" text-anchor="middle" font-family="Liberation Serif, serif" fill="#111">30</text>
<line x1="84.57" y1="390.5" x2="84.57" y2="388.9" stroke="#222" stroke-width="0.5"/>
<line x1="84.57" y1="215.4" x2="84.57" y2="217.0" stroke="#222" stroke-width="0.5"/>
<text transform="translate(83.97,402.40) scale(0.88,1)" font-size="7.9" text-anchor="middle" font-family="Liberation Serif, serif" fill="#111">40</text>
<line x1="102.96" y1="390.5" x2="102.96" y2="388.9" stroke="#222" stroke-width="0.5"/>
<line x1="102.96" y1="215.4" x2="102.96" y2="217.0" stroke="#222" stroke-width="0.5"/>
<text transform="translate(102.36,402.40) scale(0.88,1)" font-size="7.9" text-anchor="middle" font-family="Liberation Serif, serif" fill="#111">50</text>
<line x1="121.34" y1="390.5" x2="121.34" y2="388.9" stroke="#222" stroke-width="0.5"/>
<line x1="121.34" y1="215.4" x2="121.34" y2="217.0" stroke="#222" stroke-width="0.5"/>
<text transform="translate(120.74,402.40) scale(0.88,1)" font-size="7.9" text-anchor="middle" font-family="Liberation Serif, serif" fill="#111">60</text>
<line x1="139.73" y1="390.5" x2="139.73" y2="388.9" stroke="#222" stroke-width="0.5"/>
<line x1="139.73" y1="215.4" x2="139.73" y2="217.0" stroke="#222" stroke-width="0.5"/>
<text transform="translate(139.13,402.40) scale(0.88,1)" font-size="7.9" text-anchor="middle" font-family="Liberation Serif, serif" fill="#111">70</text>
<line x1="158.12" y1="390.5" x2="158.12" y2="388.9" stroke="#222" stroke-width="0.5"/>
<line x1="158.12" y1="215.4" x2="158.12" y2="217.0" stroke="#222" stroke-width="0.5"/>
<text transform="translate(157.52,402.40) scale(0.88,1)" font-size="7.9" text-anchor="middle" font-family="Liberation Serif, serif" fill="#111">80</text>
<line x1="176.51" y1="390.5" x2="176.51" y2="388.9" stroke="#222" stroke-width="0.5"/>
<line x1="176.51" y1="215.4" x2="176.51" y2="217.0" stroke="#222" stroke-width="0.5"/>
<text transform="translate(175.91,402.40) scale(0.88,1)" font-size="7.9" text-anchor="middle" font-family="Liberation Serif, serif" fill="#111">90</text>
<line x1="194.90" y1="390.5" x2="194.90" y2="388.9" stroke="#222" stroke-width="0.5"/>
<line x1="194.90" y1="215.4" x2="194.90" y2="217.0" stroke="#222" stroke-width="0.5"/>
<text transform="translate(194.30,402.40) scale(0.88,1)" font-size="7.9" text-anchor="middle" font-family="Liberation Serif, serif" fill="#111">100</text>
<text transform="translate(111.60,411.90) scale(0.93,1)" font-size="8.9" text-anchor="middle" font-family="Liberation Serif, serif" fill="#111">CA content(%)</text>
<text transform="translate(13.2,302.2) rotate(-90) scale(1,0.84)" font-size="9.1" text-anchor="middle" font-weight="bold" font-family="Liberation Serif, serif" fill="#111">Time (days)</text>
<text x="11.00" y="226.70" font-size="9.5" text-anchor="middle" font-family="Liberation Serif, serif" fill="#111" font-weight="bold">(c)</text>
<rect x="204.6" y="215.4" width="8.70" height="175.10" fill="url(#cbc)" stroke="#555" stroke-width="0.4"/>
<line x1="211.8" y1="369.90" x2="213.3" y2="369.90" stroke="#333" stroke-width="0.5"/>
<text x="216.60" y="372.30" font-size="7.0" text-anchor="start" font-family="Liberation Serif, serif" fill="#111" textLength="7.35" lengthAdjust="spacingAndGlyphs">0.4</text>
<line x1="211.8" y1="344.15" x2="213.3" y2="344.15" stroke="#333" stroke-width="0.5"/>
<text x="216.60" y="346.55" font-size="7.0" text-anchor="start" font-family="Liberation Serif, serif" fill="#111" textLength="10.29" lengthAdjust="spacingAndGlyphs">0.45</text>
<line x1="211.8" y1="318.40" x2="213.3" y2="318.40" stroke="#333" stroke-width="0.5"/>
<text x="216.60" y="320.80" font-size="7.0" text-anchor="start" font-family="Liberation Serif, serif" fill="#111" textLength="7.35" lengthAdjust="spacingAndGlyphs">0.5</text>
<line x1="211.8" y1="292.65" x2="213.3" y2="292.65" stroke="#333" stroke-width="0.5"/>
<text x="216.60" y="295.05" font-size="7.0" text-anchor="start" font-family="Liberation Serif, serif" fill="#111" textLength="10.29" lengthAdjust="spacingAndGlyphs">0.55</text>
<line x1="211.8" y1="266.90" x2="213.3" y2="266.90" stroke="#333" stroke-width="0.5"/>
<text x="216.60" y="269.30" font-size="7.0" text-anchor="start" font-family="Liberation Serif, serif" fill="#111" textLength="7.35" lengthAdjust="spacingAndGlyphs">0.6</text>
<line x1="211.8" y1="241.15" x2="213.3" y2="241.15" stroke="#333" stroke-width="0.5"/>
<text x="216.60" y="243.55" font-size="7.0" text-anchor="start" font-family="Liberation Serif, serif" fill="#111" textLength="10.29" lengthAdjust="spacingAndGlyphs">0.65</text>
<line x1="211.8" y1="215.40" x2="213.3" y2="215.40" stroke="#333" stroke-width="0.5"/>
<text x="216.60" y="217.80" font-size="7.0" text-anchor="start" font-family="Liberation Serif, serif" fill="#111" textLength="7.35" lengthAdjust="spacingAndGlyphs">0.7</text>
<rect x="318.1" y="208.2" width="228" height="208.3" fill="#faf3f3"/>
<rect x="348.5" y="211.6" width="192.10" height="170.70" fill="#fff"/>
<line x1="359.20" y1="211.6" x2="359.20" y2="382.3" stroke="#d6d6d6" stroke-width="0.7"/>
<line x1="359.20" y1="382.3" x2="359.20" y2="380.3" stroke="#444" stroke-width="0.6"/>
<line x1="359.20" y1="211.6" x2="359.20" y2="213.6" stroke="#444" stroke-width="0.6"/>
<text transform="translate(359.20,397.00) scale(0.85,1)" font-size="10" text-anchor="middle" font-family="Liberation Serif, serif" fill="#222" >2050</text>
<line x1="384.39" y1="211.6" x2="384.39" y2="382.3" stroke="#d6d6d6" stroke-width="0.7"/>
<line x1="384.39" y1="382.3" x2="384.39" y2="380.3" stroke="#444" stroke-width="0.6"/>
<line x1="384.39" y1="211.6" x2="384.39" y2="213.6" stroke="#444" stroke-width="0.6"/>
<text transform="translate(384.39,397.00) scale(0.85,1)" font-size="10" text-anchor="middle" font-family="Liberation Serif, serif" fill="#222" >2100</text>
<line x1="409.58" y1="211.6" x2="409.58" y2="382.3" stroke="#d6d6d6" stroke-width="0.7"/>
<line x1="409.58" y1="382.3" x2="409.58" y2="380.3" stroke="#444" stroke-width="0.6"/>
<line x1="409.58" y1="211.6" x2="409.58" y2="213.6" stroke="#444" stroke-width="0.6"/>
<text transform="translate(409.58,397.00) scale(0.85,1)" font-size="10" text-anchor="middle" font-family="Liberation Serif, serif" fill="#222" >2150</text>
<line x1="434.77" y1="211.6" x2="434.77" y2="382.3" stroke="#d6d6d6" stroke-width="0.7"/>
<line x1="434.77" y1="382.3" x2="434.77" y2="380.3" stroke="#444" stroke-width="0.6"/>
<line x1="434.77" y1="211.6" x2="434.77" y2="213.6" stroke="#444" stroke-width="0.6"/>
<text transform="translate(434.77,397.00) scale(0.85,1)" font-size="10" text-anchor="middle" font-family="Liberation Serif, serif" fill="#222" >2200</text>
<line x1="459.96" y1="211.6" x2="459.96" y2="382.3" stroke="#d6d6d6" stroke-width="0.7"/>
<line x1="459.96" y1="382.3" x2="459.96" y2="380.3" stroke="#444" stroke-width="0.6"/>
<line x1="459.96" y1="211.6" x2="459.96" y2="213.6" stroke="#444" stroke-width="0.6"/>
<text transform="translate(459.96,397.00) scale(0.85,1)" font-size="10" text-anchor="middle" font-family="Liberation Serif, serif" fill="#222" >2250</text>
<line x1="485.15" y1="211.6" x2="485.15" y2="382.3" stroke="#d6d6d6" stroke-width="0.7"/>
<line x1="485.15" y1="382.3" x2="485.15" y2="380.3" stroke="#444" stroke-width="0.6"/>
<line x1="485.15" y1="211.6" x2="485.15" y2="213.6" stroke="#444" stroke-width="0.6"/>
<text transform="translate(485.15,397.00) scale(0.85,1)" font-size="10" text-anchor="middle" font-family="Liberation Serif, serif" fill="#222" >2300</text>
<line x1="510.34" y1="211.6" x2="510.34" y2="382.3" stroke="#d6d6d6" stroke-width="0.7"/>
<line x1="510.34" y1="382.3" x2="510.34" y2="380.3" stroke="#444" stroke-width="0.6"/>
<line x1="510.34" y1="211.6" x2="510.34" y2="213.6" stroke="#444" stroke-width="0.6"/>
<text transform="translate(510.34,397.00) scale(0.85,1)" font-size="10" text-anchor="middle" font-family="Liberation Serif, serif" fill="#222" >2350</text>
<line x1="535.53" y1="211.6" x2="535.53" y2="382.3" stroke="#d6d6d6" stroke-width="0.7"/>
<line x1="535.53" y1="382.3" x2="535.53" y2="380.3" stroke="#444" stroke-width="0.6"/>
<line x1="535.53" y1="211.6" x2="535.53" y2="213.6" stroke="#444" stroke-width="0.6"/>
<text transform="translate(535.53,397.00) scale(0.85,1)" font-size="10" text-anchor="middle" font-family="Liberation Serif, serif" fill="#222" >2400</text>
<line x1="348.5" y1="368.30" x2="540.6" y2="368.30" stroke="#d6d6d6" stroke-width="0.7"/>
<line x1="348.5" y1="368.30" x2="350.5" y2="368.30" stroke="#444" stroke-width="0.6"/>
<line x1="540.6" y1="368.30" x2="538.6" y2="368.30" stroke="#444" stroke-width="0.6"/>
<text transform="translate(345.20,372.10) scale(0.85,1)" font-size="10.3" text-anchor="end" font-family="Liberation Serif, serif" fill="#222" >0.45</text>
<line x1="348.5" y1="341.50" x2="540.6" y2="341.50" stroke="#d6d6d6" stroke-width="0.7"/>
<line x1="348.5" y1="341.50" x2="350.5" y2="341.50" stroke="#444" stroke-width="0.6"/>
<line x1="540.6" y1="341.50" x2="538.6" y2="341.50" stroke="#444" stroke-width="0.6"/>
<text transform="translate(345.20,345.30) scale(0.85,1)" font-size="10.3" text-anchor="end" font-family="Liberation Serif, serif" fill="#222" >0.5</text>
<line x1="348.5" y1="314.70" x2="540.6" y2="314.70" stroke="#d6d6d6" stroke-width="0.7"/>
<line x1="348.5" y1="314.70" x2="350.5" y2="314.70" stroke="#444" stroke-width="0.6"/>
<line x1="540.6" y1="314.70" x2="538.6" y2="314.70" stroke="#444" stroke-width="0.6"/>
<text transform="translate(345.20,318.50) scale(0.85,1)" font-size="10.3" text-anchor="end" font-family="Liberation Serif, serif" fill="#222" >0.55</text>
<line x1="348.5" y1="287.90" x2="540.6" y2="287.90" stroke="#d6d6d6" stroke-width="0.7"/>
<line x1="348.5" y1="287.90" x2="350.5" y2="287.90" stroke="#444" stroke-width="0.6"/>
<line x1="540.6" y1="287.90" x2="538.6" y2="287.90" stroke="#444" stroke-width="0.6"/>
<text transform="translate(345.20,291.70) scale(0.85,1)" font-size="10.3" text-anchor="end" font-family="Liberation Serif, serif" fill="#222" >0.6</text>
<line x1="348.5" y1="261.10" x2="540.6" y2="261.10" stroke="#d6d6d6" stroke-width="0.7"/>
<line x1="348.5" y1="261.10" x2="350.5" y2="261.10" stroke="#444" stroke-width="0.6"/>
<line x1="540.6" y1="261.10" x2="538.6" y2="261.10" stroke="#444" stroke-width="0.6"/>
<text transform="translate(345.20,264.90) scale(0.85,1)" font-size="10.3" text-anchor="end" font-family="Liberation Serif, serif" fill="#222" >0.65</text>
<line x1="348.5" y1="234.30" x2="540.6" y2="234.30" stroke="#d6d6d6" stroke-width="0.7"/>
<line x1="348.5" y1="234.30" x2="350.5" y2="234.30" stroke="#444" stroke-width="0.6"/>
<line x1="540.6" y1="234.30" x2="538.6" y2="234.30" stroke="#444" stroke-width="0.6"/>
<text transform="translate(345.20,238.10) scale(0.85,1)" font-size="10.3" text-anchor="end" font-family="Liberation Serif, serif" fill="#222" >0.7</text>
<path d="M348.5,382.3 V211.6 H540.6 V382.3" fill="none" stroke="#666" stroke-width="0.7"/>
<path d="M348.5,211.6 V382.3 H540.6" fill="none" stroke="#3a3a3a" stroke-width="0.9"/>
<line x1="350.2" y1="382" x2="540.6" y2="222.3" stroke="#df4a0c" stroke-width="1.9"/>
<path d="M354.9,374.7 H359.1 M357.0,372.2 V377.2 M355.4,372.9 L358.6,376.4 M355.4,376.4 L358.6,372.9" stroke="#1a1a1a" stroke-width="0.75" fill="none"/>
<path d="M376.9,358.2 H381.1 M379.0,355.7 V360.7 M377.4,356.4 L380.6,359.9 M377.4,359.9 L380.6,356.4" stroke="#1a1a1a" stroke-width="0.75" fill="none"/>
<path d="M399.5,338.9 H403.7 M401.6,336.4 V341.4 M400.1,337.1 L403.2,340.6 M400.1,340.6 L403.2,337.1" stroke="#1a1a1a" stroke-width="0.75" fill="none"/>
<path d="M422.6,320.0 H426.8 M424.7,317.5 V322.5 M423.1,318.2 L426.2,321.8 M423.1,321.8 L426.2,318.2" stroke="#1a1a1a" stroke-width="0.75" fill="none"/>
<path d="M442.0,302.8 H446.2 M444.1,300.3 V305.3 M442.6,301.1 L445.7,304.6 M442.6,304.6 L445.7,301.1" stroke="#1a1a1a" stroke-width="0.75" fill="none"/>
<path d="M462.6,287.3 H466.8 M464.7,284.8 V289.8 M463.1,285.6 L466.2,289.1 M463.1,289.1 L466.2,285.6" stroke="#1a1a1a" stroke-width="0.75" fill="none"/>
<path d="M479.6,271.5 H483.8 M481.7,269.0 V274.0 M480.1,269.8 L483.2,273.2 M480.1,273.2 L483.2,269.8" stroke="#1a1a1a" stroke-width="0.75" fill="none"/>
<path d="M497.7,266.5 H501.9 M499.8,264.0 V269.0 M498.2,264.8 L501.4,268.2 M498.2,268.2 L501.4,264.8" stroke="#1a1a1a" stroke-width="0.75" fill="none"/>
<path d="M513.5,244.6 H517.7 M515.6,242.1 V247.1 M514.1,242.8 L517.1,246.3 M514.1,246.3 L517.1,242.8" stroke="#1a1a1a" stroke-width="0.75" fill="none"/>
<path d="M529.6,220.0 H533.8 M531.7,217.5 V222.5 M530.2,218.2 L533.2,221.8 M530.2,221.8 L533.2,218.2" stroke="#1a1a1a" stroke-width="0.75" fill="none"/>
<text transform="translate(386.9,229.8) scale(0.777,1)" font-size="11" font-family="Liberation Serif, serif" fill="#111"><tspan font-style="italic">Y</tspan>=0.00078<tspan font-style="italic">X</tspan> - 1.147</text>
<text transform="translate(407.5,242) scale(0.777,1)" font-size="11" font-family="Liberation Serif, serif" fill="#111"><tspan font-style="italic">R</tspan><tspan font-size="6.5" dy="-4">2</tspan><tspan dy="4">= 0.99</tspan></text>
<text transform="translate(325.5,296.9) rotate(-90) scale(1,0.85)" font-size="12.4" text-anchor="middle" font-family="Liberation Serif, serif" fill="#222">k-value (W/mK)</text>
<text transform="translate(445.00,412.20) scale(0.85,1)" font-size="11.9" text-anchor="middle" font-family="Liberation Serif, serif" fill="#222" >density (kg/m3)</text>
<text transform="translate(327.70,224.30) scale(0.85,1)" font-size="13" text-anchor="middle" font-family="Liberation Serif, serif" fill="#222" >(d)</text>
</svg></body></html>
